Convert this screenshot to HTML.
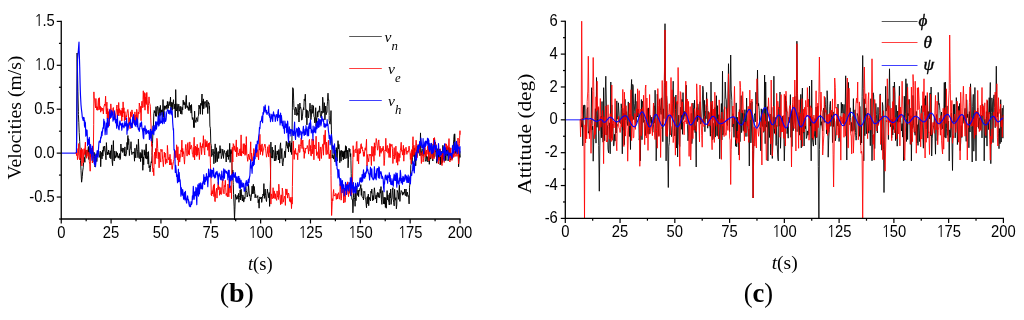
<!DOCTYPE html>
<html><head><meta charset="utf-8"><style>
html,body{margin:0;padding:0;background:#fff;}
svg{display:block;}
.tk{font-family:"Liberation Sans",Arial,sans-serif;font-size:14.8px;fill:#000;}
.al{font-family:"Liberation Serif","Times New Roman",serif;font-size:19.5px;fill:#000;}
.pl{font-family:"Liberation Serif","Times New Roman",serif;font-size:28px;fill:#000;}
.lg{font-family:"Liberation Serif","Times New Roman",serif;font-size:15.5px;font-style:italic;fill:#000;}
.lg .sub{font-size:12.8px;}
.lg2{font-family:"Liberation Serif","DejaVu Serif",serif;font-size:17px;font-style:italic;fill:#000;stroke:#000;stroke-width:0.45px;}
</style></head><body>
<svg width="1024" height="320" viewBox="0 0 1024 320">
<rect width="1024" height="320" fill="#fff"/>
<g><path d="M61.25,153.13H76.40" stroke="#00f" stroke-width="1.1"/><polyline fill="none" stroke="#000" stroke-width="0.95" stroke-opacity="1.0" stroke-linejoin="round" points="76.6,153.1 77.0,65.0 77.1,53.0 77.5,70.7 77.9,91.2 78.4,111.7 78.4,114.5 78.8,122.3 79.2,132.5 79.7,141.4 80.1,150.9 80.5,160.5 81.0,170.4 81.4,179.0 81.6,182.2 81.9,179.9 82.3,176.3 82.7,171.1 83.2,167.8 83.6,162.5 84.1,159.9 84.2,157.2 84.5,159.3 84.9,162.3 85.2,155.1 85.4,151.9 85.8,150.2 86.3,157.0 86.7,156.4 87.1,150.0 87.6,152.6 88.0,150.0 88.4,146.5 88.9,159.5 89.3,150.3 89.8,145.5 90.2,153.0 90.6,157.0 91.1,149.6 91.5,154.2 92.0,151.2 92.4,156.9 92.8,162.0 93.3,156.8 93.7,157.8 94.1,152.3 94.6,156.4 95.0,167.0 95.5,164.5 95.9,153.6 96.3,153.9 96.8,161.6 97.2,157.3 97.7,154.5 98.1,152.7 98.5,150.5 99.0,154.7 99.4,156.3 99.8,157.4 100.3,151.1 100.7,166.7 101.2,154.2 101.6,152.5 102.0,158.9 102.5,150.4 102.9,156.1 103.4,146.6 103.8,151.3 104.2,147.9 104.7,146.0 105.1,150.4 105.6,155.6 106.0,159.8 106.4,142.6 106.9,151.3 107.3,154.9 107.7,151.9 108.2,154.5 108.6,150.0 109.1,154.0 109.5,153.1 109.9,157.8 110.4,150.8 110.8,158.9 111.3,149.6 111.7,144.9 112.1,160.9 112.6,165.7 113.0,149.8 113.4,140.6 113.9,159.7 114.3,161.0 114.8,151.0 115.2,158.2 115.6,155.9 116.1,156.2 116.5,151.6 117.0,157.3 117.4,152.9 117.8,155.2 118.3,158.2 118.7,155.9 119.1,157.9 119.6,153.5 120.0,159.6 120.5,158.2 120.9,144.0 121.3,151.1 121.8,151.1 122.2,147.9 122.7,152.5 123.1,151.7 123.5,148.2 124.0,149.2 124.4,155.9 124.9,146.9 125.3,153.5 125.7,156.2 126.2,154.8 126.6,152.1 127.0,142.4 127.5,149.6 127.9,135.5 128.0,144.6 128.4,138.6 128.8,139.4 129.2,150.9 129.4,155.6 129.7,150.8 130.1,148.9 130.6,148.3 131.0,141.7 131.4,150.3 131.9,154.6 132.3,153.2 132.7,152.3 133.2,151.9 133.6,153.2 134.1,152.1 134.5,161.2 134.9,148.2 135.4,155.0 135.8,157.9 136.3,149.0 136.7,144.6 137.1,149.7 137.6,151.5 138.0,157.7 138.4,139.1 138.9,149.3 139.3,158.6 139.8,157.7 140.2,152.4 140.6,161.6 141.1,153.4 141.5,157.9 142.0,149.6 142.4,150.7 142.8,170.3 143.3,156.9 143.7,164.8 144.2,149.8 144.6,155.1 145.0,151.5 145.5,158.3 145.9,144.9 146.3,143.9 146.8,159.1 147.0,152.0 147.2,158.6 147.7,156.3 148.1,164.1 148.5,151.6 149.0,167.9 149.4,167.5 149.9,165.5 150.0,171.8 150.3,167.7 150.7,165.6 151.2,161.7 151.6,162.9 152.0,155.7 152.0,152.7 152.5,143.7 152.9,133.1 153.4,126.8 153.8,113.7 154.2,111.4 154.2,110.5 154.7,112.6 155.1,111.5 155.6,116.2 156.0,106.7 156.4,116.4 156.9,113.1 157.3,106.8 157.7,106.0 158.2,111.5 158.6,119.6 159.1,107.5 159.5,108.5 159.9,116.3 160.4,105.4 160.8,112.9 160.9,115.2 161.3,110.1 161.7,112.2 162.1,109.7 162.6,117.5 163.0,99.6 163.4,113.0 163.9,117.6 164.3,105.8 164.8,109.7 165.2,105.9 165.6,108.4 166.1,107.3 166.5,105.0 167.0,109.4 167.4,101.4 167.8,106.5 168.3,108.3 168.7,103.5 169.2,101.6 169.6,104.7 170.0,105.8 170.5,97.0 170.9,110.1 171.3,107.3 171.8,102.1 172.2,110.4 172.7,102.9 173.1,103.6 173.5,99.7 174.0,109.0 174.4,108.4 174.9,104.0 175.3,117.7 175.7,89.6 176.2,109.4 176.6,111.0 177.0,103.8 177.5,108.0 177.9,117.2 178.4,105.4 178.8,104.2 179.2,111.0 179.7,111.0 180.1,106.3 180.6,113.8 180.9,106.6 181.0,107.1 181.4,110.8 181.9,114.3 182.3,107.4 182.7,109.9 183.2,100.1 183.6,104.6 184.1,101.8 184.5,104.7 184.9,103.2 185.4,108.7 185.8,101.1 186.3,95.3 186.7,107.1 187.1,107.8 187.6,105.8 188.0,108.8 188.5,110.4 188.8,107.3 188.9,109.0 189.3,102.4 189.8,110.5 190.2,108.6 190.6,105.3 191.1,113.1 191.5,104.5 192.0,116.4 192.4,119.5 192.8,117.5 193.3,118.6 193.7,127.4 193.8,120.2 194.2,127.7 194.6,111.1 195.0,119.7 195.5,121.0 195.9,122.5 196.3,119.0 196.8,117.6 197.2,120.6 197.7,121.5 198.1,116.2 198.5,115.8 198.8,107.7 199.0,105.0 199.4,108.5 199.9,105.8 200.3,114.2 200.7,103.4 201.2,105.4 201.6,102.1 202.0,94.0 202.5,114.4 202.8,101.2 202.9,108.9 203.4,98.9 203.8,108.6 204.2,104.9 204.7,101.9 205.1,101.3 205.6,103.2 206.0,107.4 206.4,106.9 206.9,100.0 207.3,105.2 207.8,113.6 208.2,101.8 208.6,103.8 209.1,103.2 209.4,109.3 209.5,106.3 209.9,126.1 210.4,128.2 210.8,143.4 211.3,145.8 211.4,148.2 211.7,156.6 212.1,154.2 212.6,154.5 213.0,149.0 213.5,153.2 213.9,163.8 214.3,154.4 214.8,150.9 215.2,143.9 215.6,162.6 216.1,157.1 216.5,147.8 217.0,161.7 217.4,161.6 217.8,152.3 218.3,151.5 218.7,158.5 219.2,151.9 219.6,153.2 220.0,145.6 220.5,153.1 220.9,148.8 221.3,158.7 221.8,155.9 222.2,155.5 222.7,149.2 223.1,152.1 223.5,158.4 224.0,151.0 224.4,150.4 224.9,152.9 225.3,153.8 225.7,153.6 226.2,162.0 226.6,151.3 227.1,150.8 227.5,157.0 227.9,149.7 228.4,159.5 228.8,155.0 229.2,156.5 229.7,143.3 230.1,162.4 230.6,151.1 231.0,149.4 231.4,153.6 231.9,150.6 231.9,162.2 232.3,177.3 232.8,170.0 233.2,182.6 233.3,184.3 233.6,194.5 234.1,206.2 234.5,219.7 234.9,209.7 235.4,194.3 235.5,196.1 235.8,197.1 236.3,197.0 236.7,199.4 237.1,195.4 237.6,196.7 238.0,199.0 238.5,193.4 238.9,202.3 239.3,197.6 239.8,195.7 240.2,189.9 240.6,200.0 241.1,189.2 241.5,196.3 242.0,198.4 242.4,201.0 242.8,194.9 243.3,196.9 243.7,202.1 244.2,199.9 244.6,197.4 245.0,198.5 245.5,187.9 245.9,186.8 246.3,190.6 246.8,192.8 247.2,197.0 247.7,194.7 248.1,191.8 248.5,184.2 249.0,190.5 249.4,196.1 249.9,194.6 250.3,197.8 250.7,200.8 251.2,197.3 251.6,194.0 252.1,186.1 252.5,193.8 252.9,186.9 253.4,184.3 253.8,193.7 254.2,186.4 254.7,191.3 255.1,197.9 255.6,194.5 256.0,196.3 256.4,197.1 256.9,197.7 257.3,196.9 257.8,195.6 258.2,202.8 258.6,199.6 259.1,208.2 259.5,198.7 259.9,196.9 260.4,198.9 260.8,198.1 261.3,197.0 261.7,202.4 262.1,199.8 262.6,195.5 263.0,194.0 263.5,195.6 263.9,183.6 264.3,198.4 264.8,192.6 265.2,189.0 265.6,195.8 266.1,199.5 266.5,201.5 267.0,193.7 267.4,189.1 267.8,193.1 268.3,193.8 268.7,197.8 269.2,192.5 269.6,206.4 270.0,194.0 270.0,193.2 270.5,179.5 270.9,142.1 271.0,157.0 271.4,156.5 271.8,158.0 272.2,147.1 272.7,158.2 273.1,150.3 273.5,150.3 274.0,152.6 274.4,161.0 274.9,158.5 275.3,145.2 275.7,160.8 276.2,159.1 276.6,155.7 277.1,150.9 277.5,154.3 277.9,150.9 278.4,160.0 278.8,149.6 279.2,151.9 279.7,163.1 280.1,146.4 280.6,142.8 281.0,158.7 281.4,154.2 281.9,148.5 282.3,163.0 282.8,166.0 283.2,162.2 283.6,158.3 284.1,158.1 284.5,151.2 284.9,151.0 285.4,157.6 285.8,148.4 286.3,141.3 286.7,145.4 287.1,144.9 287.6,148.3 288.0,142.3 288.5,151.9 288.9,143.1 289.3,146.5 289.8,140.9 290.2,144.1 290.7,152.2 291.1,147.3 291.5,142.8 291.7,154.6 292.0,135.2 292.4,107.1 292.7,87.7 292.8,88.4 293.3,88.6 293.7,100.8 293.9,107.6 294.2,109.9 294.6,109.7 295.0,115.0 295.5,107.0 295.9,107.5 296.4,108.4 296.8,115.6 297.2,112.8 297.7,114.5 298.1,104.2 298.5,112.7 299.0,122.0 299.4,110.8 299.9,103.0 300.3,108.2 300.7,107.3 301.2,110.0 301.6,120.2 302.1,119.5 302.5,116.2 302.9,110.2 303.4,108.8 303.5,107.6 303.8,110.0 304.2,99.2 304.7,100.7 305.1,97.0 305.3,94.2 305.6,102.1 306.0,117.5 306.4,114.0 306.5,109.7 306.9,124.9 307.3,110.5 307.8,110.7 308.2,117.1 308.6,117.9 309.1,111.2 309.5,111.1 310.0,103.2 310.4,108.4 310.8,119.8 311.3,117.3 311.7,108.7 312.1,104.9 312.6,113.3 313.0,112.7 313.5,105.7 313.9,116.5 314.3,117.2 314.8,122.9 315.2,119.0 315.7,107.7 316.1,126.4 316.4,118.4 316.5,125.5 317.0,116.5 317.4,111.7 317.8,117.0 318.3,110.8 318.7,110.9 319.2,112.2 319.6,105.9 320.0,110.4 320.5,116.5 320.9,117.5 321.4,118.0 321.8,111.0 322.2,113.3 322.7,97.2 323.1,101.8 323.5,112.4 324.0,112.8 324.4,102.7 324.9,119.9 325.3,112.5 325.7,106.0 326.2,114.7 326.6,112.4 327.0,112.6 327.1,106.7 327.5,101.7 327.9,94.3 328.0,93.2 328.4,100.1 328.8,99.8 329.2,115.4 329.2,120.7 329.7,123.1 330.1,124.2 330.6,119.0 331.0,110.6 331.4,129.1 331.9,147.0 332.2,158.1 332.3,155.0 332.8,155.2 333.2,155.7 333.6,159.1 334.1,154.1 334.5,147.0 335.0,161.9 335.4,150.4 335.8,161.0 336.3,147.6 336.7,153.2 337.1,161.1 337.6,150.0 338.0,140.7 338.5,148.8 338.9,144.4 339.3,151.0 339.8,162.7 340.2,150.6 340.7,156.1 341.1,161.2 341.5,150.4 342.0,152.8 342.4,156.9 342.8,150.9 343.3,159.9 343.7,151.7 344.2,158.2 344.6,150.8 345.0,158.9 345.5,145.7 345.9,152.0 346.4,146.5 346.8,158.3 347.2,156.7 347.7,150.1 348.1,167.8 348.5,159.7 349.0,148.2 349.4,151.6 349.9,149.2 350.3,156.6 350.7,153.6 350.9,160.2 351.2,173.7 351.6,192.5 351.9,199.5 352.1,199.4 352.5,199.4 352.9,212.8 353.3,205.0 353.4,197.8 353.8,193.2 354.3,197.7 354.7,199.3 355.1,206.3 355.6,184.9 356.0,200.7 356.4,186.1 356.9,186.6 357.3,192.7 357.8,195.5 358.2,190.2 358.6,196.7 359.1,190.4 359.5,191.1 360.0,188.1 360.4,188.1 360.8,184.6 361.3,195.4 361.7,188.5 362.1,196.8 362.6,197.4 363.0,196.9 363.5,200.0 363.9,191.2 364.3,192.4 364.8,191.6 365.2,198.5 365.7,198.2 366.1,203.8 366.5,207.8 367.0,197.4 367.4,196.6 367.8,203.8 368.3,194.1 368.7,205.7 369.2,197.1 369.6,199.3 370.0,198.6 370.5,201.0 370.9,191.1 371.4,193.2 371.8,189.0 372.2,194.3 372.7,200.8 373.1,195.6 373.6,200.0 374.0,192.3 374.4,187.8 374.9,193.2 375.3,199.0 375.7,197.9 376.2,195.2 376.6,203.0 377.1,193.7 377.5,192.4 377.9,197.1 378.4,197.1 378.8,192.7 379.3,197.8 379.7,197.4 380.1,189.2 380.6,193.2 381.0,186.6 381.4,199.8 381.9,204.4 382.3,191.0 382.8,190.7 383.2,198.9 383.6,203.8 384.1,197.2 384.5,204.1 385.0,197.3 385.4,207.4 385.8,197.8 386.3,208.2 386.7,199.9 387.1,190.6 387.6,199.9 388.0,194.8 388.5,201.1 388.9,202.2 389.3,205.0 389.8,192.9 390.2,198.0 390.7,189.0 391.1,204.4 391.5,200.0 392.0,197.8 392.4,190.7 392.9,187.6 393.3,199.3 393.7,202.4 394.2,205.9 394.6,189.3 395.0,197.3 395.5,200.2 395.9,197.6 396.4,208.8 396.8,204.8 397.2,190.3 397.7,192.3 398.1,192.9 398.6,199.3 399.0,190.3 399.4,185.2 399.9,201.4 400.3,193.8 400.7,193.9 401.2,190.5 401.6,191.0 402.1,192.4 402.5,195.2 402.9,192.1 403.4,194.4 403.8,192.6 404.3,193.0 404.7,189.0 405.1,195.4 405.6,195.5 406.0,189.0 406.4,195.1 406.9,196.6 407.3,192.1 407.8,194.7 408.2,196.2 408.6,195.7 409.1,203.9 409.4,195.1 409.5,187.2 410.0,182.3 410.4,183.8 410.8,165.3 411.2,164.2 411.3,160.4 411.7,158.0 412.1,163.7 412.6,150.2 413.0,156.7 413.5,151.0 413.9,151.0 414.1,147.9 414.3,148.3 414.8,161.5 415.2,154.2 415.7,165.8 416.1,156.5 416.5,151.1 417.0,149.3 417.4,146.4 417.9,153.1 418.3,150.3 418.7,151.9 419.2,145.9 419.6,144.9 420.0,155.8 420.5,132.9 420.9,152.2 421.4,155.1 421.8,150.6 422.2,149.2 422.7,150.7 423.1,156.1 423.6,146.4 424.0,154.4 424.4,147.9 424.9,148.5 425.3,161.3 425.7,160.6 426.2,161.2 426.6,155.7 427.1,157.4 427.5,157.2 427.9,162.0 428.4,156.3 428.8,150.5 429.3,164.3 429.7,159.4 430.1,156.6 430.6,158.8 431.0,158.5 431.4,148.1 431.9,150.9 432.3,152.8 432.8,161.0 433.2,144.0 433.6,153.4 434.1,157.3 434.5,156.8 435.0,156.3 435.4,142.3 435.8,151.9 436.3,151.9 436.7,163.2 437.2,148.6 437.6,158.6 438.0,159.9 438.5,150.5 438.9,158.4 439.3,150.2 439.8,149.0 440.2,164.9 440.7,156.8 441.1,164.2 441.5,155.9 442.0,151.0 442.4,162.5 442.9,145.3 443.3,155.8 443.7,159.4 444.2,154.4 444.6,149.6 445.0,160.6 445.5,153.7 445.9,160.5 446.4,147.3 446.8,151.8 447.2,155.6 447.7,147.6 448.1,160.9 448.6,157.6 449.0,147.3 449.4,157.7 449.9,149.4 450.3,156.3 450.7,160.2 451.2,157.1 451.6,156.1 452.0,158.2 452.1,159.1 452.5,155.7 452.9,155.3 453.4,143.9 453.8,139.7 454.3,134.2 454.4,145.8 454.7,133.8 455.1,142.0 455.6,153.5 456.0,148.6 456.4,147.9 456.5,151.2 456.9,148.7 457.3,147.9 457.8,149.8 458.2,154.7 458.6,166.8 459.1,159.2 459.5,153.4 460.0,157.4 460.0,151.3"/><polyline fill="none" stroke="#f00" stroke-width="0.95" stroke-opacity="1.0" stroke-linejoin="round" points="76.2,153.1 76.2,152.2 76.6,155.6 77.0,148.5 77.5,159.7 77.9,156.1 78.4,153.8 78.8,143.5 79.2,157.9 79.7,159.8 80.1,156.5 80.5,150.1 81.0,157.7 81.4,147.9 81.9,166.0 82.3,149.5 82.7,149.6 83.2,162.8 83.6,154.0 84.1,148.6 84.5,154.5 84.9,148.8 85.4,142.1 85.8,152.5 86.3,155.4 86.7,158.3 87.1,149.9 87.6,154.6 88.0,156.1 88.4,156.6 88.9,152.2 89.3,161.8 89.8,164.1 90.2,171.2 90.6,150.4 91.1,155.8 91.5,148.0 92.0,157.4 92.4,163.0 92.8,155.6 93.2,157.6 93.3,155.0 93.7,124.3 93.9,91.9 94.1,98.4 94.6,98.3 95.0,103.2 95.5,107.9 95.9,98.5 96.3,105.9 96.8,110.1 97.2,106.7 97.7,110.3 98.1,102.3 98.5,98.4 99.0,110.0 99.4,97.7 99.8,108.9 100.3,106.2 100.7,112.2 101.1,108.9 101.2,107.4 101.6,108.9 102.0,110.8 102.5,108.0 102.9,109.2 103.4,114.0 103.8,107.5 104.2,105.8 104.7,104.0 105.1,105.7 105.6,96.2 106.0,108.9 106.4,114.0 106.9,102.1 107.3,118.9 107.7,108.6 108.2,118.9 108.6,111.6 109.1,126.1 109.5,109.8 109.9,115.9 110.4,118.7 110.8,103.9 111.1,107.4 111.3,111.1 111.7,115.9 112.1,111.2 112.6,111.9 113.0,107.9 113.4,107.5 113.9,115.3 114.3,114.6 114.8,114.7 115.2,119.0 115.6,115.2 116.1,112.1 116.5,108.7 117.0,105.0 117.4,117.6 117.8,109.3 118.3,115.9 118.7,102.5 119.1,112.9 119.6,108.7 120.0,115.7 120.5,114.3 120.9,110.1 121.1,113.6 121.3,111.0 121.8,121.1 122.2,108.0 122.7,117.0 123.1,101.9 123.5,113.1 124.0,107.8 124.4,120.7 124.9,111.6 125.3,120.0 125.7,118.0 126.2,115.6 126.6,117.0 127.0,113.2 127.5,110.2 127.9,109.5 128.4,113.9 128.8,124.0 129.2,121.1 129.7,117.6 130.1,128.8 130.6,111.8 131.0,116.4 131.4,116.7 131.9,109.9 132.3,111.5 132.7,114.5 133.2,123.2 133.6,115.5 134.1,115.9 134.5,122.4 134.9,111.9 135.0,113.3 135.4,126.0 135.8,114.9 136.3,121.8 136.7,109.3 137.1,111.4 137.6,119.7 138.0,117.8 138.4,112.0 138.9,113.9 139.3,103.0 139.8,106.6 140.2,112.4 140.6,106.4 141.1,120.7 141.5,105.4 142.0,101.2 142.4,106.3 142.8,107.8 143.0,99.4 143.3,90.8 143.7,99.9 144.2,107.0 144.6,92.6 145.0,110.2 145.5,97.0 145.9,103.1 146.0,93.4 146.3,104.5 146.8,92.4 147.2,99.8 147.7,111.3 148.1,113.8 148.5,105.4 149.0,96.9 149.4,103.1 149.9,103.5 150.0,104.3 150.3,106.2 150.7,117.9 151.2,128.9 151.6,146.3 152.0,144.6 152.0,144.5 152.5,168.8 152.9,169.7 153.0,172.1 153.4,168.4 153.8,175.7 154.2,156.0 154.7,152.1 155.0,156.6 155.1,164.1 155.6,148.5 156.0,158.3 156.4,156.5 156.9,138.3 157.3,140.8 157.7,148.5 158.2,158.8 158.6,152.1 159.1,167.8 159.5,152.6 159.9,157.6 160.4,160.1 160.8,162.1 160.9,149.2 161.3,150.8 161.7,151.5 162.1,149.5 162.6,159.2 163.0,162.5 163.4,166.7 163.9,158.8 164.3,152.0 164.8,157.2 165.2,153.1 165.6,164.2 166.1,158.9 166.5,160.1 167.0,162.9 167.4,145.4 167.8,151.5 168.3,159.9 168.7,159.3 169.2,157.2 169.6,165.0 170.0,154.3 170.5,164.8 170.9,159.2 171.3,164.8 171.8,162.7 171.9,168.0 172.2,169.4 172.7,165.7 173.1,163.9 173.5,161.3 174.0,159.5 174.4,150.7 174.9,153.3 175.3,157.8 175.7,150.6 176.2,157.5 176.6,144.8 177.0,150.0 177.5,159.8 177.9,147.6 177.9,146.7 178.4,165.8 178.8,156.9 179.2,153.9 179.7,162.1 180.1,157.8 180.6,157.6 181.0,149.9 181.4,152.0 181.9,140.1 182.3,156.9 182.7,148.3 183.2,154.1 183.6,151.6 184.1,159.5 184.5,164.1 184.9,156.5 185.4,148.0 185.8,144.4 186.3,150.1 186.7,150.3 187.1,156.1 187.6,143.3 188.0,142.6 188.5,154.2 188.9,150.7 189.3,155.1 189.8,141.9 190.2,147.1 190.6,149.2 191.1,145.4 191.5,145.4 192.0,149.1 192.4,154.1 192.8,154.4 193.3,157.3 193.7,146.5 194.2,137.3 194.6,160.0 195.0,147.2 195.5,146.0 195.9,155.1 196.3,147.2 196.8,156.4 197.2,144.3 197.7,155.0 198.1,151.5 198.5,147.9 199.0,153.0 199.4,159.6 199.9,151.3 200.3,142.6 200.7,147.3 201.2,146.2 201.6,154.6 202.0,147.8 202.5,143.7 202.9,147.7 203.4,135.7 203.8,146.6 204.2,150.6 204.7,155.0 205.1,139.5 205.6,147.1 206.0,142.2 206.4,146.7 206.9,140.8 207.3,143.3 207.8,150.3 208.2,147.3 208.6,143.2 209.1,156.3 209.5,142.6 209.9,143.6 210.0,145.5 210.4,163.2 210.8,173.3 211.3,195.1 211.4,192.8 211.7,195.9 212.1,190.6 212.6,194.0 213.0,188.7 213.5,185.3 213.9,196.6 214.3,183.9 214.8,201.2 215.2,201.7 215.6,193.1 216.1,191.0 216.5,188.2 217.0,198.1 217.4,188.8 217.8,186.8 218.3,181.9 218.7,189.7 219.2,186.8 219.6,195.3 220.0,190.8 220.5,194.0 220.9,187.5 221.3,194.5 221.8,193.3 222.2,183.7 222.7,178.8 223.1,188.8 223.5,190.9 224.0,193.9 224.4,185.4 224.9,186.8 225.3,180.3 225.7,187.8 226.2,195.4 226.6,193.2 227.1,196.2 227.5,196.9 227.9,184.0 228.4,186.9 228.8,196.8 229.2,179.6 229.7,186.9 230.1,192.9 230.6,185.8 231.0,188.8 231.4,193.0 231.5,198.8 231.9,170.2 232.3,147.3 232.8,162.0 233.2,143.6 233.6,144.0 234.1,150.4 234.5,145.9 234.9,148.2 235.4,151.8 235.8,149.1 236.3,139.9 236.7,156.8 237.1,147.4 237.6,147.7 238.0,154.5 238.5,153.1 238.9,156.0 239.3,153.9 239.8,149.0 240.2,148.7 240.6,155.7 241.1,134.9 241.5,156.1 242.0,151.3 242.4,152.7 242.8,153.1 243.3,143.7 243.7,154.0 244.2,144.4 244.6,143.7 245.0,155.4 245.5,145.1 245.9,154.5 246.3,136.6 246.8,153.7 247.2,156.5 247.7,161.3 248.1,157.7 248.5,154.1 249.0,157.3 249.4,159.6 249.9,154.9 250.3,151.1 250.7,141.8 251.2,161.3 251.6,153.0 252.1,157.0 252.5,160.8 252.9,159.6 253.4,156.6 253.8,148.5 254.2,154.1 254.7,156.5 255.1,150.1 255.6,151.7 256.0,152.6 256.4,149.7 256.9,157.1 257.3,150.8 257.8,149.6 258.2,156.1 258.6,159.8 259.1,143.9 259.5,150.1 259.9,134.3 260.4,154.6 260.8,144.9 261.3,151.5 261.7,147.3 262.1,143.9 262.6,155.4 263.0,151.9 263.5,150.4 263.9,147.5 264.3,146.2 264.8,144.0 265.2,144.8 265.6,148.6 266.1,153.1 266.5,157.2 267.0,154.3 267.4,153.3 267.8,146.7 268.3,152.3 268.7,156.9 269.2,144.7 269.6,152.9 270.0,153.6 270.0,153.7 270.5,169.8 270.9,204.1 271.0,200.1 271.4,193.9 271.8,196.7 272.2,198.9 272.7,197.2 273.1,187.7 273.5,198.2 274.0,190.9 274.4,191.2 274.9,198.6 275.3,193.7 275.7,198.7 276.2,198.9 276.6,200.4 277.1,190.9 277.5,197.0 277.9,196.0 278.4,199.5 278.8,184.2 279.2,189.5 279.7,195.3 280.1,198.9 280.6,204.7 281.0,194.9 281.4,195.0 281.9,203.8 282.3,188.1 282.8,191.8 283.2,202.2 283.6,199.6 284.1,198.3 284.5,196.2 284.9,197.8 285.4,205.4 285.8,188.9 286.3,194.7 286.7,189.5 287.1,189.2 287.6,198.1 288.0,195.0 288.5,193.0 288.9,194.2 289.3,198.6 289.8,201.5 290.2,197.3 290.7,202.3 291.1,199.8 291.5,208.6 292.0,197.1 292.1,204.1 292.4,186.5 292.8,158.0 292.9,151.8 293.3,141.1 293.7,150.5 294.2,159.4 294.6,150.6 295.0,154.1 295.5,148.4 295.9,154.2 296.4,154.6 296.8,153.3 297.2,152.9 297.7,159.8 298.1,152.3 298.5,148.6 299.0,144.5 299.4,152.4 299.9,152.4 300.3,146.3 300.7,144.9 301.2,137.9 301.6,144.8 302.1,148.6 302.5,141.0 302.9,140.0 303.4,151.5 303.8,147.7 304.2,158.4 304.7,150.8 305.1,153.3 305.6,148.0 306.0,149.0 306.4,148.7 306.9,148.2 307.3,145.5 307.8,147.8 308.2,149.9 308.6,154.1 309.1,140.7 309.5,139.4 310.0,151.2 310.4,145.4 310.8,155.5 311.3,156.1 311.7,148.6 312.1,138.9 312.6,153.8 313.0,151.8 313.5,139.4 313.9,159.8 314.3,144.9 314.8,146.8 315.2,149.0 315.7,147.8 316.1,136.2 316.5,155.5 317.0,151.7 317.4,152.8 317.8,155.1 318.3,158.4 318.7,142.1 319.2,148.4 319.6,160.8 320.0,154.7 320.5,147.2 320.9,147.0 321.4,158.5 321.8,151.7 322.2,147.9 322.7,144.3 323.1,143.8 323.5,155.2 324.0,134.9 324.4,144.4 324.9,135.2 325.3,130.2 325.7,148.1 326.2,154.7 326.6,142.1 327.1,149.3 327.5,150.8 327.9,154.3 328.4,140.3 328.8,151.7 329.2,158.7 329.7,154.2 330.1,158.6 330.6,150.2 330.8,154.6 331.0,175.6 331.4,201.7 331.6,215.5 331.9,209.8 332.3,198.6 332.8,200.8 333.0,198.9 333.2,193.6 333.6,189.5 334.1,196.1 334.5,195.0 335.0,195.7 335.4,194.5 335.8,193.3 336.3,199.4 336.7,197.2 337.1,194.1 337.6,198.9 338.0,194.1 338.5,192.7 338.9,195.2 339.3,199.0 339.8,199.1 340.2,183.8 340.7,189.6 341.1,200.2 341.5,198.4 342.0,183.4 342.4,185.0 342.8,192.9 343.3,187.4 343.7,203.0 344.2,193.3 344.6,189.5 345.0,202.3 345.5,197.2 345.9,186.8 346.4,183.9 346.8,194.2 347.2,188.3 347.7,181.8 348.1,192.5 348.5,196.7 349.0,190.5 349.4,193.3 349.9,183.7 350.3,189.4 350.7,195.1 351.2,177.4 351.6,194.8 352.1,188.9 352.3,189.2 352.5,181.0 352.9,159.3 353.1,145.7 353.4,149.7 353.8,156.8 354.3,150.4 354.7,150.0 355.1,149.7 355.6,148.9 356.0,153.0 356.4,142.0 356.9,141.4 357.3,161.2 357.8,149.5 358.2,153.6 358.6,164.0 359.1,148.4 359.5,154.0 360.0,151.5 360.4,153.2 360.8,144.5 361.3,143.7 361.7,148.7 362.1,146.8 362.6,151.1 363.0,150.5 363.5,156.3 363.9,152.0 364.3,156.3 364.8,150.2 365.2,147.8 365.7,150.3 366.1,145.6 366.5,139.3 367.0,166.2 367.4,154.5 367.8,158.6 368.3,158.6 368.7,161.8 369.2,154.1 369.6,155.4 370.0,155.8 370.5,154.2 370.9,156.5 371.4,165.5 371.8,146.2 372.2,153.8 372.7,156.3 373.1,146.7 373.6,153.0 374.0,161.3 374.4,142.8 374.9,155.4 375.3,148.1 375.7,145.7 376.2,138.5 376.6,140.1 377.1,145.6 377.5,150.2 377.9,148.9 378.4,142.1 378.8,139.9 379.3,148.2 379.7,156.5 380.1,146.1 380.6,152.5 381.0,153.3 381.4,152.4 381.9,148.2 382.3,151.2 382.8,147.9 383.2,146.2 383.6,150.4 384.1,165.6 384.5,160.8 385.0,149.9 385.4,151.0 385.8,138.3 386.3,150.4 386.7,151.6 387.1,145.8 387.6,145.6 388.0,153.2 388.5,148.5 388.9,157.4 389.3,156.1 389.8,143.5 390.2,157.7 390.7,144.2 391.1,146.3 391.5,145.4 392.0,144.4 392.4,148.3 392.9,163.5 393.3,156.4 393.7,154.8 394.2,147.6 394.6,159.1 395.0,156.9 395.5,155.6 395.9,146.1 396.4,162.5 396.8,161.9 397.2,151.7 397.7,165.2 398.1,152.8 398.6,156.0 399.0,161.4 399.4,153.6 399.9,157.7 400.3,150.7 400.7,148.0 401.2,142.3 401.6,151.3 402.1,150.3 402.5,155.1 402.9,151.2 403.4,145.3 403.8,161.2 404.3,148.7 404.7,154.8 405.1,151.2 405.6,149.4 406.0,147.2 406.4,150.1 406.9,154.4 407.3,150.9 407.8,152.1 408.2,152.4 408.6,149.5 409.1,146.1 409.5,150.6 410.0,151.9 410.4,159.5 410.8,153.4 411.3,163.7 411.7,149.6 412.1,157.7 412.6,145.3 413.0,136.7 413.5,155.2 413.9,145.2 414.3,149.4 414.8,154.9 415.2,154.7 415.7,146.1 416.1,140.2 416.5,145.3 417.0,157.8 417.4,156.0 417.9,151.8 418.3,144.4 418.7,150.0 419.2,150.5 419.6,145.0 420.0,153.5 420.5,153.1 420.9,155.0 421.4,163.5 421.8,152.8 422.2,153.3 422.7,151.4 423.1,161.9 423.6,158.4 424.0,147.4 424.4,150.4 424.9,143.8 425.3,156.9 425.7,151.8 426.2,156.2 426.6,150.0 427.1,154.4 427.5,148.2 427.9,145.9 428.4,148.4 428.8,160.9 429.3,145.1 429.7,148.5 430.1,157.3 430.6,157.6 431.0,150.9 431.4,148.2 431.9,154.5 432.3,159.2 432.8,148.9 433.2,150.6 433.6,138.2 434.1,158.7 434.5,137.6 435.0,142.1 435.4,150.6 435.8,144.0 436.3,153.6 436.7,150.1 437.2,159.1 437.6,156.8 438.0,161.6 438.5,164.0 438.9,157.6 439.3,160.4 439.8,152.6 440.2,148.7 440.7,156.5 441.1,155.2 441.5,154.3 442.0,165.6 442.4,153.4 442.9,154.5 443.3,153.3 443.7,158.6 444.2,162.5 444.6,153.7 445.0,150.4 445.5,143.7 445.9,144.6 446.4,143.9 446.8,149.8 447.2,145.7 447.7,152.9 448.1,148.5 448.6,147.0 449.0,138.6 449.4,152.8 449.9,162.0 450.3,147.8 450.7,159.0 451.2,154.6 451.6,155.6 452.0,160.4 452.1,147.9 452.5,150.7 452.9,157.7 453.4,153.9 453.8,157.2 454.3,150.7 454.7,155.6 455.1,156.5 455.6,155.2 456.0,153.9 456.5,149.7 456.9,156.4 457.3,151.8 457.8,148.7 458.0,138.0 458.2,146.2 458.6,163.9 459.1,147.2 459.5,143.5 459.6,138.2 460.0,130.7 460.0,134.8"/><polyline fill="none" stroke="#00f" stroke-width="1.15" stroke-opacity="1.0" stroke-linejoin="round" points="76.4,153.1 76.6,137.3 77.0,102.5 77.2,89.9 77.5,62.0 77.5,60.0 77.9,55.0 78.4,49.7 78.8,44.4 79.0,42.0 79.2,50.7 79.5,60.0 79.7,66.8 80.1,83.2 80.3,89.9 80.5,95.4 81.0,104.8 81.4,109.0 81.9,113.1 82.3,117.3 82.4,118.0 82.7,118.4 83.2,120.5 83.6,117.4 84.1,117.7 84.5,126.1 84.8,120.9 84.9,127.3 85.4,122.5 85.8,136.2 86.3,134.6 86.7,129.8 87.1,130.6 87.6,145.6 88.0,141.2 88.4,139.2 88.9,144.3 89.3,137.3 89.8,150.8 90.0,146.8 90.2,153.3 90.6,144.5 91.1,151.4 91.5,154.1 92.0,160.3 92.4,146.2 92.8,151.1 93.3,153.1 93.7,153.9 93.9,158.2 94.1,162.6 94.6,164.6 95.0,164.1 95.5,155.1 95.5,166.7 95.9,162.3 96.3,158.4 96.8,153.7 97.2,150.5 97.7,156.3 98.1,157.2 98.5,149.0 99.0,141.9 99.4,141.1 99.8,141.6 100.3,142.6 100.7,137.0 101.2,137.9 101.6,131.9 102.0,135.8 102.5,130.4 102.5,131.9 102.9,127.8 103.4,128.3 103.8,119.2 104.2,123.4 104.7,121.9 105.1,134.7 105.6,128.6 106.0,129.2 106.4,123.1 106.9,134.4 107.3,118.8 107.7,118.4 108.2,127.2 108.6,125.6 109.1,123.5 109.5,118.5 109.7,116.5 109.9,109.4 110.4,117.5 110.8,114.3 111.3,117.3 111.7,110.5 112.1,114.7 112.6,112.0 113.0,121.1 113.4,117.4 113.9,119.7 114.3,110.9 114.8,114.8 115.2,120.5 115.6,122.9 116.1,119.2 116.5,125.5 116.7,128.1 117.0,122.8 117.4,115.3 117.8,125.3 118.3,126.3 118.7,129.0 119.1,129.8 119.6,122.6 120.0,120.8 120.5,125.0 120.9,124.4 120.9,124.1 121.3,123.7 121.8,130.3 122.2,126.2 122.7,123.1 123.1,126.7 123.5,125.7 124.0,127.8 124.4,125.4 124.9,121.2 125.3,125.7 125.7,126.0 126.2,123.4 126.4,123.1 126.6,117.9 127.0,134.3 127.5,123.8 127.9,130.2 128.4,127.0 128.8,124.1 129.2,122.8 129.7,122.5 130.1,125.2 130.6,119.5 131.0,127.2 131.4,127.8 131.9,123.0 132.3,127.5 132.7,117.1 133.2,121.0 133.6,114.5 134.1,123.0 134.5,124.6 134.9,122.6 135.0,120.3 135.4,126.1 135.8,122.0 136.3,124.4 136.7,117.7 137.1,126.8 137.6,119.4 138.0,127.2 138.4,129.7 138.9,128.8 139.3,131.4 139.8,126.9 140.2,123.1 140.6,126.4 141.1,125.2 141.5,121.8 142.0,128.3 142.4,129.5 142.8,131.9 143.3,138.0 143.4,128.2 143.7,138.7 144.2,128.6 144.6,130.4 145.0,125.8 145.5,131.0 145.9,134.1 146.3,129.2 146.8,133.4 147.2,132.3 147.6,131.0 147.7,130.9 148.1,130.6 148.5,133.3 149.0,130.7 149.4,139.5 149.9,132.5 150.3,137.9 150.4,129.2 150.7,129.2 151.2,140.8 151.6,131.3 152.0,131.5 152.5,133.8 152.9,126.1 153.4,130.0 153.8,134.6 154.2,128.1 154.6,127.1 154.7,125.7 155.1,130.7 155.6,122.1 156.0,121.6 156.4,129.2 156.9,125.6 157.3,122.1 157.7,124.3 158.2,115.8 158.6,121.0 158.7,126.0 159.1,125.3 159.5,122.5 159.9,113.3 160.4,123.2 160.8,122.2 161.3,121.0 161.7,122.6 162.1,112.4 162.6,123.6 163.0,118.2 163.4,121.2 163.9,117.8 164.3,123.3 164.8,111.9 164.9,119.8 165.2,118.5 165.6,121.4 166.1,119.3 166.5,113.9 167.0,111.1 167.4,110.7 167.8,109.6 168.3,110.5 168.7,113.5 169.2,110.6 169.6,110.7 170.0,114.2 170.5,110.9 170.9,107.6 171.3,112.4 171.8,115.0 171.9,111.3 172.2,110.9 172.7,122.5 173.1,127.6 173.3,130.0 173.5,128.6 174.0,150.0 174.4,149.4 174.9,154.9 175.3,172.5 175.7,165.3 176.2,170.4 176.6,176.5 177.0,174.7 177.5,182.8 177.9,179.3 178.4,169.2 178.8,181.7 179.2,172.6 179.7,181.1 180.1,179.7 180.6,186.5 180.9,196.2 181.0,189.8 181.4,187.7 181.9,192.8 182.3,195.1 182.7,189.6 183.2,194.4 183.6,199.2 184.1,196.0 184.5,192.5 184.9,199.9 185.1,193.6 185.4,191.3 185.8,197.3 186.3,201.8 186.7,203.2 187.1,198.9 187.6,195.8 188.0,199.6 188.5,199.6 188.9,204.2 189.2,201.9 189.3,206.1 189.8,204.7 190.2,206.8 190.6,206.4 191.1,201.7 191.5,204.5 192.0,203.0 192.4,195.8 192.8,199.4 193.3,186.3 193.7,193.2 194.2,199.2 194.6,192.1 195.0,191.8 195.5,195.7 195.9,187.3 196.3,195.3 196.8,204.6 197.2,188.2 197.7,192.9 197.8,184.9 198.1,194.3 198.5,196.2 199.0,183.6 199.4,194.0 199.9,188.5 200.3,182.9 200.7,187.6 201.2,188.8 201.6,186.9 202.0,183.4 202.5,188.9 202.9,181.8 203.4,182.7 203.8,174.7 204.2,183.8 204.7,184.4 205.1,177.0 205.6,181.4 206.0,177.4 206.2,178.5 206.4,173.6 206.9,180.0 207.3,176.8 207.8,186.6 208.2,178.9 208.6,169.1 209.1,176.9 209.5,175.6 209.9,176.6 210.4,169.2 210.8,171.9 211.3,177.6 211.7,170.0 212.1,172.9 212.6,170.5 213.0,176.6 213.5,168.1 213.9,173.8 214.3,176.0 214.8,178.0 215.2,176.6 215.6,172.8 215.6,177.1 216.1,172.0 216.5,174.1 217.0,171.4 217.4,173.7 217.8,177.3 218.3,184.2 218.7,175.1 219.2,173.1 219.6,176.0 220.0,174.5 220.5,179.1 220.9,178.5 221.3,180.0 221.8,171.1 222.2,176.2 222.7,177.5 223.1,180.4 223.5,175.4 223.7,168.8 224.0,173.4 224.4,178.1 224.9,169.8 225.3,171.0 225.7,171.3 226.2,172.9 226.6,171.3 227.1,173.6 227.5,173.1 227.9,179.7 228.4,170.2 228.8,177.2 229.2,170.3 229.7,187.6 230.1,177.2 230.6,175.7 231.0,180.8 231.4,177.5 231.9,174.4 232.3,175.7 232.5,179.9 232.8,178.1 233.2,173.1 233.6,172.4 234.1,176.7 234.5,177.3 234.9,176.4 235.4,172.7 235.8,180.7 236.3,181.8 236.7,176.9 237.1,182.8 237.6,181.0 238.0,178.7 238.1,176.6 238.5,183.0 238.9,176.3 239.3,187.8 239.8,178.6 240.2,188.7 240.6,187.6 241.1,180.2 241.5,184.3 242.0,187.1 242.4,186.8 242.8,182.8 243.3,186.0 243.7,187.0 243.7,183.6 244.2,191.3 244.6,191.0 245.0,190.4 245.5,183.0 245.9,183.3 246.3,180.6 246.8,186.2 247.2,185.8 247.7,181.9 248.1,185.3 248.1,180.3 248.5,179.2 249.0,182.7 249.4,177.8 249.9,175.4 250.3,166.2 250.7,159.7 251.2,168.0 251.6,166.0 252.1,173.3 252.5,162.3 252.9,161.7 253.4,165.7 253.8,156.7 254.2,164.4 254.7,156.2 255.0,153.6 255.1,158.7 255.6,147.7 256.0,144.6 256.4,152.3 256.9,150.9 257.3,141.1 257.8,141.9 258.2,143.6 258.6,136.9 259.0,134.0 259.1,133.7 259.5,127.4 259.9,128.8 260.4,121.5 260.8,121.3 261.3,121.2 261.7,118.0 262.0,116.0 262.1,116.9 262.6,122.6 263.0,112.5 263.5,114.2 263.9,106.7 264.3,111.9 264.6,108.7 264.8,109.6 265.2,105.0 265.6,110.6 266.1,112.9 266.5,110.4 267.0,114.5 267.4,112.9 267.8,112.9 268.3,112.3 268.7,106.1 269.0,115.5 269.2,113.3 269.6,117.1 270.0,114.0 270.5,121.7 270.9,119.2 271.4,117.2 271.8,114.3 272.2,117.6 272.6,120.3 272.7,121.4 273.1,115.4 273.5,111.9 274.0,115.8 274.4,116.1 274.9,114.9 275.3,121.4 275.7,117.6 276.2,116.4 276.6,114.5 277.1,115.8 277.5,120.6 277.9,112.1 278.4,109.5 278.6,117.3 278.8,115.2 279.2,116.5 279.7,115.2 280.1,124.9 280.6,113.1 281.0,122.6 281.4,115.5 281.9,121.4 282.3,125.8 282.8,124.7 283.2,121.1 283.4,128.2 283.6,126.1 284.1,127.2 284.5,133.3 284.9,121.0 285.4,125.0 285.8,127.5 286.3,124.0 286.7,132.7 287.1,128.7 287.6,121.1 287.9,123.9 288.0,135.6 288.5,142.3 288.9,134.8 289.3,126.9 289.8,133.3 290.2,132.9 290.7,129.3 290.9,135.9 291.1,131.4 291.5,129.7 292.0,129.8 292.4,130.4 292.8,135.2 293.3,131.3 293.7,135.4 294.2,128.4 294.6,122.0 295.0,134.2 295.5,139.5 295.9,133.5 296.4,130.3 296.8,128.4 297.2,128.8 297.7,136.2 298.1,135.6 298.5,127.4 299.0,137.3 299.4,128.3 299.9,134.8 299.9,130.6 300.3,131.3 300.7,131.9 301.2,131.7 301.6,138.9 302.1,132.9 302.5,133.2 302.9,131.3 303.4,126.3 303.7,131.7 303.8,133.9 304.2,135.5 304.7,133.4 305.1,129.3 305.6,134.4 306.0,125.7 306.4,128.6 306.9,130.3 307.3,135.8 307.8,129.6 308.2,126.9 308.6,135.7 309.1,124.6 309.5,123.2 310.0,128.4 310.1,128.5 310.4,119.7 310.8,124.2 311.3,133.0 311.7,129.7 312.1,131.3 312.6,131.5 313.0,140.2 313.1,126.1 313.5,132.7 313.9,130.4 314.3,132.1 314.8,126.8 315.2,130.7 315.7,132.9 316.1,126.8 316.5,123.0 317.0,128.8 317.4,121.3 317.8,125.1 318.3,127.5 318.7,118.6 319.2,126.8 319.6,119.7 320.0,124.2 320.5,119.9 320.9,126.0 321.4,123.2 321.8,116.4 322.2,118.6 322.7,119.3 323.1,121.5 323.5,119.2 324.0,126.8 324.4,127.1 324.9,123.6 325.3,126.9 325.7,127.1 326.2,124.4 326.6,125.1 327.0,125.6 327.1,119.5 327.5,125.1 327.9,124.1 328.4,130.8 328.8,133.4 329.2,138.4 329.7,135.6 330.1,144.8 330.6,141.1 331.0,136.6 331.4,134.4 331.9,139.3 332.3,148.7 332.8,145.8 333.2,153.2 333.4,146.0 333.6,149.9 334.1,148.4 334.5,143.9 335.0,153.1 335.4,150.8 335.8,160.9 336.3,165.5 336.4,157.9 336.7,158.0 337.1,169.0 337.6,169.0 338.0,178.0 338.5,173.3 338.9,169.5 339.3,176.4 339.8,180.4 340.2,185.6 340.6,180.7 340.7,178.5 341.1,180.6 341.5,184.3 342.0,192.6 342.4,180.5 342.8,188.4 343.3,188.3 343.7,184.7 344.2,195.8 344.6,188.7 345.0,190.4 345.4,187.4 345.5,182.3 345.9,185.4 346.4,194.4 346.8,188.8 347.2,185.3 347.7,184.9 348.1,188.9 348.5,191.0 349.0,182.5 349.4,184.1 349.9,184.2 350.3,191.8 350.3,177.7 350.7,195.7 351.2,186.8 351.6,177.6 352.1,187.8 352.5,185.8 352.9,192.2 353.4,182.6 353.8,193.3 354.3,187.0 354.7,187.3 355.1,192.3 355.6,183.2 355.9,193.1 356.0,190.1 356.4,187.4 356.9,188.8 357.3,184.6 357.8,182.5 358.2,186.3 358.6,186.3 359.1,185.4 359.5,183.6 360.0,178.0 360.4,181.6 360.8,177.8 361.3,178.1 361.7,182.2 362.1,174.6 362.6,181.1 363.0,176.2 363.5,169.8 363.9,177.9 364.3,173.0 364.8,178.2 365.2,173.8 365.5,176.4 365.7,172.1 366.1,173.5 366.5,171.3 367.0,165.8 367.4,170.7 367.8,169.4 368.3,172.8 368.7,173.3 369.2,175.1 369.6,179.9 370.0,173.8 370.5,167.2 370.9,172.4 371.4,176.6 371.8,168.8 372.2,177.9 372.7,178.1 373.1,179.7 373.6,179.8 374.0,177.2 374.4,166.7 374.9,175.1 375.1,178.3 375.3,177.2 375.7,173.8 376.2,179.6 376.6,171.2 377.1,168.5 377.5,169.8 377.9,168.5 378.1,175.5 378.4,177.8 378.8,166.8 379.3,167.5 379.7,178.3 380.1,171.9 380.6,173.4 381.0,171.7 381.4,173.8 381.9,178.4 382.3,176.3 382.8,177.6 383.2,179.6 383.6,187.7 384.1,191.7 384.2,181.8 384.5,184.2 385.0,177.0 385.4,175.0 385.8,176.8 386.3,179.8 386.7,178.7 387.1,175.1 387.6,183.2 388.0,176.6 388.5,175.8 388.9,177.5 389.3,172.7 389.8,181.5 390.2,175.3 390.7,184.1 391.1,183.9 391.5,184.6 392.0,178.7 392.4,184.6 392.9,181.2 393.3,186.2 393.7,177.8 394.2,174.2 394.6,180.1 395.0,175.6 395.5,180.4 395.9,172.9 396.4,180.9 396.8,187.2 397.2,173.4 397.7,180.1 398.1,183.3 398.6,181.0 399.0,184.7 399.4,178.2 399.9,180.9 400.3,170.4 400.7,173.9 401.2,182.9 401.6,181.6 402.1,178.4 402.5,184.2 402.9,176.3 403.4,177.0 403.8,181.5 404.3,181.0 404.7,177.9 405.1,174.9 405.6,175.1 406.0,180.0 406.4,176.1 406.9,182.4 407.3,177.1 407.8,182.1 408.2,175.1 408.6,182.4 409.1,181.3 409.5,178.3 410.0,176.0 410.4,183.8 410.6,180.3 410.8,174.4 411.3,173.2 411.7,175.5 412.1,170.8 412.6,170.7 413.0,161.0 413.5,163.3 413.9,170.4 414.3,172.9 414.8,161.7 415.2,155.7 415.7,157.5 415.9,152.7 416.1,158.2 416.5,160.2 417.0,150.4 417.4,149.6 417.9,145.2 418.3,152.8 418.7,145.7 419.2,149.0 419.6,141.6 419.9,145.9 420.0,145.4 420.5,145.3 420.9,138.0 421.4,143.0 421.8,147.4 422.2,147.3 422.7,148.1 423.1,138.6 423.6,153.6 424.0,150.7 424.4,145.1 424.9,141.9 425.3,146.8 425.7,141.0 426.2,141.4 426.6,141.8 427.1,145.4 427.5,138.2 427.9,143.7 428.4,138.8 428.7,149.3 428.8,140.0 429.3,149.9 429.7,151.5 430.1,143.6 430.6,149.6 431.0,146.0 431.4,153.3 431.5,143.4 431.9,149.6 432.3,153.8 432.8,148.3 433.2,145.6 433.6,152.2 434.1,146.1 434.5,140.2 435.0,145.6 435.4,149.2 435.8,150.1 436.3,145.6 436.7,154.2 437.2,161.1 437.6,151.3 438.0,154.4 438.5,143.6 438.9,150.3 439.3,156.1 439.8,156.5 440.2,150.6 440.7,155.0 441.1,155.0 441.5,152.6 442.0,151.8 442.4,152.7 442.9,152.5 443.3,147.9 443.7,146.9 444.2,160.6 444.6,143.8 445.0,153.2 445.5,147.8 445.9,155.4 446.4,151.9 446.8,152.2 447.2,153.7 447.7,150.4 448.1,152.2 448.6,159.1 449.0,156.2 449.4,153.1 449.9,153.0 450.3,155.4 450.7,154.7 451.2,153.3 451.6,156.9 452.1,157.9 452.5,145.6 452.9,152.6 453.4,150.0 453.8,153.1 454.3,143.9 454.7,142.1 455.1,149.9 455.6,146.9 456.0,151.4 456.5,141.3 456.9,145.3 457.3,153.5 457.8,145.0 458.2,148.1 458.6,147.2 459.1,148.9 459.5,153.9 460.0,151.3 460.0,146.3"/></g>
<g><path d="M565.30,119.83H581.8" stroke="#00f" stroke-width="0.9"/><polyline fill="none" stroke="#000" stroke-width="0.85" stroke-opacity="1.0" stroke-linejoin="round" points="580.1,119.8 580.6,119.8 581.2,119.8 581.7,127.1 582.3,118.0 582.8,145.9 583.4,105.3 583.9,118.5 584.5,104.9 585.0,105.7 585.6,137.6 586.1,134.6 586.7,124.8 587.2,109.2 587.8,107.5 588.3,133.1 588.8,131.4 589.4,134.6 589.9,131.1 590.5,125.4 591.0,123.6 591.6,87.7 592.1,129.8 592.7,126.2 593.2,161.2 593.8,137.1 594.3,127.5 594.9,121.2 595.4,108.7 596.0,143.1 596.5,77.5 597.1,127.3 597.6,118.7 598.2,107.6 598.7,145.6 599.3,191.2 599.8,148.0 600.3,121.8 600.9,116.3 601.4,137.8 602.0,101.5 602.5,134.2 603.1,142.2 603.6,87.7 604.2,123.7 604.7,140.8 605.3,91.0 605.8,76.2 606.4,104.0 606.9,135.1 607.5,125.6 608.0,149.2 608.6,152.8 609.1,137.5 609.7,122.8 610.2,153.8 610.8,82.0 611.3,138.4 611.8,104.9 612.4,131.4 612.9,124.0 613.5,145.8 614.0,145.8 614.6,134.3 615.1,141.1 615.7,121.5 616.2,133.0 616.8,100.9 617.3,119.0 617.9,118.8 618.4,102.8 619.0,113.0 619.5,122.1 620.1,123.0 620.6,123.5 621.2,103.8 621.7,108.6 622.3,153.8 622.8,108.3 623.3,130.4 623.9,113.1 624.4,144.7 625.0,99.3 625.5,120.0 626.1,118.5 626.6,111.6 627.2,121.6 627.7,125.6 628.3,101.9 628.8,119.6 629.4,136.5 629.9,114.2 630.5,149.5 631.0,94.3 631.6,79.5 632.1,120.7 632.7,84.4 633.2,86.1 633.8,119.6 634.3,111.2 634.8,103.6 635.4,93.8 635.9,123.6 636.5,119.2 637.0,101.3 637.6,117.0 638.1,109.1 638.7,111.4 639.2,140.1 639.8,135.6 640.3,160.9 640.9,125.7 641.4,99.5 642.0,139.7 642.5,101.2 643.1,105.0 643.6,122.4 644.2,121.6 644.7,120.1 645.3,135.6 645.8,126.1 646.3,122.2 646.9,111.4 647.4,108.5 648.0,133.7 648.5,107.9 649.1,134.2 649.6,124.2 650.2,115.4 650.7,121.8 651.3,123.6 651.8,117.0 652.4,130.5 652.9,132.2 653.5,124.8 654.0,105.7 654.6,123.1 655.1,90.2 655.7,117.9 656.2,160.9 656.8,128.7 657.3,94.1 657.8,121.4 658.4,128.7 658.9,135.8 659.5,99.7 660.0,105.0 660.6,110.4 661.1,114.4 661.7,97.8 662.2,108.0 662.8,141.7 663.3,108.8 663.9,118.7 664.4,82.4 665.0,23.7 665.5,81.7 666.1,160.9 666.6,95.9 667.2,104.4 667.7,148.0 668.3,187.5 668.8,146.3 669.3,142.6 669.9,116.4 670.4,125.2 671.0,127.3 671.5,136.6 672.1,132.6 672.6,103.3 673.2,81.2 673.7,113.2 674.3,122.2 674.8,135.9 675.4,109.7 675.9,95.0 676.5,148.0 677.0,102.2 677.6,157.0 678.1,127.1 678.7,115.1 679.2,143.9 679.8,146.4 680.3,118.4 680.8,107.1 681.4,129.3 681.9,99.4 682.5,134.3 683.0,92.6 683.6,119.5 684.1,117.6 684.7,111.4 685.2,116.2 685.8,91.1 686.3,85.2 686.9,112.5 687.4,124.2 688.0,140.8 688.5,133.9 689.1,121.3 689.6,123.1 690.2,122.2 690.7,121.4 691.3,113.3 691.8,143.7 692.3,138.3 692.9,103.0 693.4,107.7 694.0,130.3 694.5,100.2 695.1,132.6 695.6,125.6 696.2,167.0 696.7,107.6 697.3,121.6 697.8,103.9 698.4,109.8 698.9,119.8 699.5,118.7 700.0,101.7 700.6,124.0 701.1,123.8 701.7,120.2 702.2,108.0 702.8,86.2 703.3,89.7 703.8,122.4 704.4,100.3 704.9,131.7 705.5,111.0 706.0,118.8 706.6,92.4 707.1,110.8 707.7,128.2 708.2,111.3 708.8,115.1 709.3,125.9 709.9,125.6 710.4,136.2 711.0,82.0 711.5,118.5 712.1,104.7 712.6,139.8 713.2,138.5 713.7,123.2 714.3,123.1 714.8,107.5 715.3,137.1 715.9,111.8 716.4,95.7 717.0,135.7 717.5,105.7 718.1,136.4 718.6,114.9 719.2,114.7 719.7,158.8 720.3,132.0 720.8,117.9 721.4,103.5 721.9,139.9 722.5,71.2 723.0,134.9 723.6,132.2 724.1,109.4 724.7,109.1 725.2,82.0 725.8,98.0 726.3,99.5 726.8,123.4 727.4,125.6 727.9,97.0 728.5,63.7 729.0,93.5 729.6,131.7 730.1,99.4 730.7,55.0 731.2,89.9 731.8,100.4 732.3,127.0 732.9,113.7 733.4,121.8 734.0,137.3 734.5,118.1 735.1,120.5 735.6,146.2 736.2,102.9 736.7,146.8 737.3,117.2 737.8,138.3 738.3,134.4 738.9,155.0 739.4,109.5 740.0,141.7 740.5,124.2 741.1,95.6 741.6,132.6 742.2,121.7 742.7,110.2 743.3,130.7 743.8,113.4 744.4,132.0 744.9,109.7 745.5,120.2 746.0,136.6 746.6,98.0 747.1,122.8 747.7,125.8 748.2,136.4 748.8,128.9 749.3,166.0 749.8,118.4 750.4,103.2 750.9,142.9 751.5,127.0 752.0,101.6 752.6,150.6 753.1,198.0 753.7,143.7 754.2,115.7 754.8,113.6 755.3,121.9 755.9,92.2 756.4,104.0 757.0,103.9 757.5,70.0 758.1,106.0 758.6,103.4 759.2,110.3 759.7,123.9 760.3,127.9 760.8,150.8 761.3,108.8 761.9,123.3 762.4,126.5 763.0,109.5 763.5,132.3 764.1,131.0 764.6,75.0 765.2,143.7 765.7,82.0 766.3,124.7 766.8,127.2 767.4,106.7 767.9,160.9 768.5,122.0 769.0,121.3 769.6,137.5 770.1,114.0 770.7,154.9 771.2,121.6 771.8,107.3 772.3,158.5 772.8,146.0 773.4,125.0 773.9,76.2 774.5,133.4 775.0,117.1 775.6,119.2 776.1,145.5 776.7,125.2 777.2,144.6 777.8,157.9 778.3,160.9 778.9,107.1 779.4,126.2 780.0,92.0 780.5,148.3 781.1,130.1 781.6,118.7 782.2,126.7 782.7,116.1 783.3,121.9 783.8,134.3 784.3,160.9 784.9,139.8 785.4,95.8 786.0,111.5 786.5,101.4 787.1,133.6 787.6,127.0 788.2,138.2 788.7,117.3 789.3,122.7 789.8,116.2 790.4,94.6 790.9,137.3 791.5,111.4 792.0,146.6 792.6,105.4 793.1,130.8 793.7,124.7 794.2,121.2 794.8,96.4 795.3,124.0 795.9,131.6 796.4,95.3 796.9,41.2 797.5,93.7 798.0,131.7 798.6,123.9 799.1,112.4 799.7,135.2 800.2,112.5 800.8,94.4 801.3,147.9 801.9,101.1 802.4,88.1 803.0,133.2 803.5,113.4 804.1,146.0 804.6,117.9 805.2,128.8 805.7,118.4 806.3,138.5 806.8,137.0 807.4,130.9 807.9,135.2 808.4,133.8 809.0,127.0 809.5,86.0 810.1,126.1 810.6,115.9 811.2,160.9 811.7,80.0 812.3,136.1 812.8,142.3 813.4,146.1 813.9,138.0 814.5,136.3 815.0,118.5 815.6,144.9 816.1,107.0 816.7,137.6 817.2,112.9 817.8,106.2 818.3,166.4 818.9,218.0 819.4,149.5 819.9,130.9 820.5,113.8 821.0,125.3 821.6,121.7 822.1,126.0 822.7,131.0 823.2,110.7 823.8,108.0 824.3,122.4 824.9,97.4 825.4,104.3 826.0,110.6 826.5,133.8 827.1,90.7 827.6,100.2 828.2,157.2 828.7,140.1 829.3,129.7 829.8,106.3 830.4,101.3 830.9,126.4 831.4,117.6 832.0,110.2 832.5,142.6 833.1,111.9 833.6,126.6 834.2,118.5 834.7,122.3 835.3,140.9 835.8,137.9 836.4,120.8 836.9,119.4 837.5,125.8 838.0,104.0 838.6,127.4 839.1,141.5 839.7,127.1 840.2,124.3 840.8,123.6 841.3,102.4 841.9,113.1 842.4,104.1 842.9,111.2 843.5,124.2 844.0,104.4 844.6,125.7 845.1,117.3 845.7,75.8 846.2,119.7 846.8,160.0 847.3,115.3 847.9,91.5 848.4,82.4 849.0,104.6 849.5,121.8 850.1,107.8 850.6,117.6 851.2,131.3 851.7,122.4 852.3,125.4 852.8,131.3 853.4,98.6 853.9,130.2 854.4,129.5 855.0,109.8 855.5,132.7 856.1,140.2 856.6,135.3 857.2,113.4 857.7,115.1 858.3,116.4 858.8,128.9 859.4,136.3 859.9,106.4 860.5,145.0 861.0,124.8 861.6,143.0 862.1,96.5 862.7,55.5 863.2,88.5 863.8,160.9 864.3,98.8 864.9,135.7 865.4,116.3 865.9,107.9 866.5,133.7 867.0,122.6 867.6,113.0 868.1,123.1 868.7,133.2 869.2,118.0 869.8,119.3 870.3,145.7 870.9,98.7 871.4,117.3 872.0,160.8 872.5,134.6 873.1,92.7 873.6,94.9 874.2,116.5 874.7,148.6 875.3,124.8 875.8,103.5 876.4,114.4 876.9,126.3 877.4,133.0 878.0,107.3 878.5,124.3 879.1,115.5 879.6,112.7 880.2,93.9 880.7,117.8 881.3,116.5 881.8,150.2 882.4,102.5 882.9,106.2 883.5,149.3 884.0,192.5 884.6,152.0 885.1,119.5 885.7,86.3 886.2,111.1 886.8,107.7 887.3,107.3 887.9,98.8 888.4,139.5 888.9,103.9 889.5,68.8 890.0,101.1 890.6,126.7 891.1,119.2 891.7,137.8 892.2,119.4 892.8,135.0 893.3,86.1 893.9,129.6 894.4,82.0 895.0,94.1 895.5,140.6 896.1,105.2 896.6,111.0 897.2,146.2 897.7,111.0 898.3,122.5 898.8,115.2 899.4,86.2 899.9,122.0 900.4,114.2 901.0,124.0 901.5,131.0 902.1,123.6 902.6,137.1 903.2,115.4 903.7,160.9 904.3,96.2 904.8,120.0 905.4,113.2 905.9,78.8 906.5,141.5 907.0,83.6 907.6,139.5 908.1,113.4 908.7,115.7 909.2,99.4 909.8,121.2 910.3,144.3 910.9,115.7 911.4,160.9 911.9,124.4 912.5,128.7 913.0,95.4 913.6,125.8 914.1,128.6 914.7,133.6 915.2,135.3 915.8,130.3 916.3,111.4 916.9,142.9 917.4,124.7 918.0,145.4 918.5,124.0 919.1,118.6 919.6,141.6 920.2,130.8 920.7,119.6 921.3,108.7 921.8,105.7 922.4,123.2 922.9,137.9 923.4,148.2 924.0,108.6 924.5,98.5 925.1,115.4 925.6,95.7 926.2,128.9 926.7,127.9 927.3,95.6 927.8,138.1 928.4,111.5 928.9,115.1 929.5,119.0 930.0,92.9 930.6,136.0 931.1,87.0 931.7,156.0 932.2,138.8 932.8,130.0 933.3,127.9 933.9,124.8 934.4,116.6 934.9,132.5 935.5,154.2 936.0,119.0 936.6,114.5 937.1,140.7 937.7,134.5 938.2,92.4 938.8,104.5 939.3,103.5 939.9,110.4 940.4,119.1 941.0,129.9 941.5,112.0 942.1,124.8 942.6,128.8 943.2,121.7 943.7,122.8 944.3,82.5 944.8,137.3 945.4,82.0 945.9,138.1 946.4,128.5 947.0,105.9 947.5,135.3 948.1,129.4 948.6,121.0 949.2,160.9 949.7,129.9 950.3,137.4 950.8,125.6 951.4,113.2 951.9,137.4 952.5,170.5 953.0,133.4 953.6,104.4 954.1,122.1 954.7,104.2 955.2,137.9 955.8,123.0 956.3,97.6 956.9,108.3 957.4,144.6 957.9,131.2 958.5,106.4 959.0,111.2 959.6,103.5 960.1,150.6 960.7,142.3 961.2,125.5 961.8,137.5 962.3,121.8 962.9,121.1 963.4,115.5 964.0,123.4 964.5,111.9 965.1,108.3 965.6,118.6 966.2,141.4 966.7,99.8 967.3,117.6 967.8,114.1 968.4,118.3 968.9,147.8 969.4,111.6 970.0,132.0 970.5,83.8 971.1,99.9 971.6,126.2 972.2,162.0 972.7,106.4 973.3,94.4 973.8,151.2 974.4,133.5 974.9,87.5 975.5,132.2 976.0,160.9 976.6,118.8 977.1,117.5 977.7,108.0 978.2,117.4 978.8,128.5 979.3,117.6 979.9,121.8 980.4,129.5 980.9,116.9 981.5,115.3 982.0,137.9 982.6,104.2 983.1,107.5 983.7,108.2 984.2,160.9 984.8,119.2 985.3,123.2 985.9,137.8 986.4,111.6 987.0,146.1 987.5,100.8 988.1,114.8 988.6,129.6 989.2,97.7 989.7,113.6 990.3,82.5 990.8,163.7 991.4,112.5 991.9,97.9 992.4,103.0 993.0,142.6 993.5,98.3 994.1,94.8 994.6,107.3 995.2,127.7 995.7,106.3 996.3,66.2 996.8,101.8 997.4,116.9 997.9,112.4 998.5,133.8 999.0,148.7 999.6,128.5 1000.1,143.7 1000.7,99.7 1001.2,142.1 1001.8,113.9 1002.3,108.2 1002.9,138.2 1003.4,105.3"/><polyline fill="none" stroke="#f00" stroke-width="0.85" stroke-opacity="1.0" stroke-linejoin="round" points="580.1,119.8 580.6,136.8 581.2,114.9 581.7,21.2 582.3,106.7 582.8,121.3 583.4,125.6 583.9,128.0 584.5,218.4 585.0,124.8 585.6,142.9 586.1,117.0 586.7,138.9 587.2,101.4 587.8,91.1 588.3,56.2 588.8,93.3 589.4,138.7 589.9,120.1 590.5,119.9 591.0,153.3 591.6,124.5 592.1,124.8 592.7,90.4 593.2,57.5 593.8,91.5 594.3,138.7 594.9,126.1 595.4,134.5 596.0,96.8 596.5,111.3 597.1,81.2 597.6,110.1 598.2,106.8 598.7,106.8 599.3,130.6 599.8,121.8 600.3,98.5 600.9,127.2 601.4,117.5 602.0,121.0 602.5,110.6 603.1,126.6 603.6,163.7 604.2,116.7 604.7,119.0 605.3,134.9 605.8,105.9 606.4,142.0 606.9,140.4 607.5,141.7 608.0,104.8 608.6,126.6 609.1,136.6 609.7,139.3 610.2,113.7 610.8,138.0 611.3,141.5 611.8,85.0 612.4,140.3 612.9,125.9 613.5,120.8 614.0,128.0 614.6,121.5 615.1,98.7 615.7,129.1 616.2,141.3 616.8,150.8 617.3,124.0 617.9,126.4 618.4,116.3 619.0,128.3 619.5,128.5 620.1,132.5 620.6,129.2 621.2,118.0 621.7,126.9 622.3,119.0 622.8,89.4 623.3,112.8 623.9,146.5 624.4,92.2 625.0,114.9 625.5,136.1 626.1,105.7 626.6,120.4 627.2,130.8 627.7,161.2 628.3,137.0 628.8,119.9 629.4,103.1 629.9,126.0 630.5,113.7 631.0,89.8 631.6,140.6 632.1,116.4 632.7,125.7 633.2,138.0 633.8,137.5 634.3,120.9 634.8,113.5 635.4,129.4 635.9,119.8 636.5,108.8 637.0,115.8 637.6,88.8 638.1,113.1 638.7,112.6 639.2,90.6 639.8,166.3 640.3,118.5 640.9,109.0 641.4,135.7 642.0,126.2 642.5,107.6 643.1,110.3 643.6,95.2 644.2,120.5 644.7,144.7 645.3,88.7 645.8,85.0 646.3,138.0 646.9,98.0 647.4,120.1 648.0,150.4 648.5,127.6 649.1,129.0 649.6,94.5 650.2,133.7 650.7,124.8 651.3,125.2 651.8,126.9 652.4,135.7 652.9,117.0 653.5,103.0 654.0,110.4 654.6,135.9 655.1,139.5 655.7,118.7 656.2,132.3 656.8,131.0 657.3,148.2 657.8,88.6 658.4,105.6 658.9,136.6 659.5,105.7 660.0,98.6 660.6,157.5 661.1,129.7 661.7,127.0 662.2,80.5 662.8,122.6 663.3,124.4 663.9,121.6 664.4,75.0 665.0,30.0 665.5,86.7 666.1,135.9 666.6,81.2 667.2,136.7 667.7,130.1 668.3,120.0 668.8,112.7 669.3,103.7 669.9,114.2 670.4,135.0 671.0,77.5 671.5,116.5 672.1,89.8 672.6,120.9 673.2,142.6 673.7,137.8 674.3,96.8 674.8,129.5 675.4,155.2 675.9,130.2 676.5,120.6 677.0,101.1 677.6,104.1 678.1,67.5 678.7,95.2 679.2,132.1 679.8,166.3 680.3,91.6 680.8,92.4 681.4,106.6 681.9,115.2 682.5,101.9 683.0,123.0 683.6,122.2 684.1,134.8 684.7,120.6 685.2,122.0 685.8,81.2 686.3,123.8 686.9,99.8 687.4,99.0 688.0,123.7 688.5,101.4 689.1,156.4 689.6,119.1 690.2,106.6 690.7,160.0 691.3,139.7 691.8,103.3 692.3,124.9 692.9,138.7 693.4,126.8 694.0,129.6 694.5,108.7 695.1,113.2 695.6,125.3 696.2,131.6 696.7,83.8 697.3,98.9 697.8,114.9 698.4,110.1 698.9,123.1 699.5,141.9 700.0,85.0 700.6,109.9 701.1,119.0 701.7,135.5 702.2,147.2 702.8,118.8 703.3,126.2 703.8,126.4 704.4,126.1 704.9,116.0 705.5,115.8 706.0,104.8 706.6,105.4 707.1,98.8 707.7,107.4 708.2,126.2 708.8,121.5 709.3,112.5 709.9,125.7 710.4,111.6 711.0,101.7 711.5,133.8 712.1,149.7 712.6,101.0 713.2,120.4 713.7,109.0 714.3,142.5 714.8,92.2 715.3,108.5 715.9,122.7 716.4,126.4 717.0,118.8 717.5,123.4 718.1,125.2 718.6,139.0 719.2,99.9 719.7,121.3 720.3,119.4 720.8,119.1 721.4,159.4 721.9,112.0 722.5,126.1 723.0,125.4 723.6,119.5 724.1,136.6 724.7,106.8 725.2,132.1 725.8,135.5 726.3,134.8 726.8,118.0 727.4,108.4 727.9,130.4 728.5,73.8 729.0,103.2 729.6,138.1 730.1,140.1 730.7,184.5 731.2,149.4 731.8,131.2 732.3,113.1 732.9,106.0 733.4,123.9 734.0,105.1 734.5,86.4 735.1,124.1 735.6,139.5 736.2,138.0 736.7,143.5 737.3,131.2 737.8,132.5 738.3,142.4 738.9,111.9 739.4,160.1 740.0,81.2 740.5,87.5 741.1,103.6 741.6,112.1 742.2,113.1 742.7,91.6 743.3,111.8 743.8,119.4 744.4,140.9 744.9,121.9 745.5,132.7 746.0,132.2 746.6,132.4 747.1,121.4 747.7,126.1 748.2,106.3 748.8,142.4 749.3,123.4 749.8,90.1 750.4,120.0 750.9,101.0 751.5,102.0 752.0,99.0 752.6,147.7 753.1,198.0 753.7,152.7 754.2,126.9 754.8,146.1 755.3,128.3 755.9,141.2 756.4,148.0 757.0,78.8 757.5,121.4 758.1,131.9 758.6,136.3 759.2,129.5 759.7,127.1 760.3,127.4 760.8,121.5 761.3,127.8 761.9,165.0 762.4,112.1 763.0,114.8 763.5,131.5 764.1,130.8 764.6,113.5 765.2,123.9 765.7,121.4 766.3,160.1 766.8,160.1 767.4,115.1 767.9,115.2 768.5,97.8 769.0,108.8 769.6,117.0 770.1,120.4 770.7,144.1 771.2,80.0 771.8,130.6 772.3,156.0 772.8,117.4 773.4,116.2 773.9,106.0 774.5,128.7 775.0,127.0 775.6,134.7 776.1,126.8 776.7,93.3 777.2,126.6 777.8,101.2 778.3,107.1 778.9,108.7 779.4,107.5 780.0,137.3 780.5,114.5 781.1,94.6 781.6,132.1 782.2,121.4 782.7,132.0 783.3,115.4 783.8,138.4 784.3,94.2 784.9,126.8 785.4,146.0 786.0,91.2 786.5,104.7 787.1,112.1 787.6,111.9 788.2,126.5 788.7,124.3 789.3,108.8 789.8,105.6 790.4,105.3 790.9,117.2 791.5,167.0 792.0,123.8 792.6,102.4 793.1,97.0 793.7,126.3 794.2,128.5 794.8,80.0 795.3,108.8 795.9,151.0 796.4,96.1 796.9,43.8 797.5,92.2 798.0,117.2 798.6,148.3 799.1,99.8 799.7,115.7 800.2,113.5 800.8,140.1 801.3,121.1 801.9,98.7 802.4,146.4 803.0,115.6 803.5,109.2 804.1,132.0 804.6,107.3 805.2,126.1 805.7,100.4 806.3,112.0 806.8,117.0 807.4,87.6 807.9,107.0 808.4,99.1 809.0,140.2 809.5,131.3 810.1,106.9 810.6,105.8 811.2,121.6 811.7,107.8 812.3,138.0 812.8,117.1 813.4,139.5 813.9,115.1 814.5,128.6 815.0,131.2 815.6,119.7 816.1,90.8 816.7,137.3 817.2,130.5 817.8,103.1 818.3,127.6 818.9,91.6 819.4,57.0 819.9,94.5 820.5,114.8 821.0,92.0 821.6,109.9 822.1,112.2 822.7,155.0 823.2,146.3 823.8,135.2 824.3,96.3 824.9,107.1 825.4,112.3 826.0,110.2 826.5,129.6 827.1,115.1 827.6,135.4 828.2,114.2 828.7,132.4 829.3,124.2 829.8,113.2 830.4,126.0 830.9,110.0 831.4,113.2 832.0,114.7 832.5,98.9 833.1,154.2 833.6,187.0 834.2,143.9 834.7,78.0 835.3,87.6 835.8,108.2 836.4,107.0 836.9,135.2 837.5,108.3 838.0,109.6 838.6,138.0 839.1,135.4 839.7,122.5 840.2,115.9 840.8,160.1 841.3,119.5 841.9,116.9 842.4,123.6 842.9,116.3 843.5,113.2 844.0,137.3 844.6,113.8 845.1,124.8 845.7,136.2 846.2,117.2 846.8,96.2 847.3,78.0 847.9,147.8 848.4,147.8 849.0,88.2 849.5,124.8 850.1,121.6 850.6,133.6 851.2,136.1 851.7,153.9 852.3,117.8 852.8,116.4 853.4,153.1 853.9,137.8 854.4,132.9 855.0,121.1 855.5,116.6 856.1,102.2 856.6,98.2 857.2,103.1 857.7,82.0 858.3,139.8 858.8,129.8 859.4,101.9 859.9,115.9 860.5,120.3 861.0,153.2 861.6,151.2 862.1,155.7 862.7,218.0 863.2,160.8 863.8,101.0 864.3,67.0 864.9,97.1 865.4,103.7 865.9,93.7 866.5,119.8 867.0,124.0 867.6,138.7 868.1,100.5 868.7,92.6 869.2,130.7 869.8,115.9 870.3,119.2 870.9,130.1 871.4,107.5 872.0,58.8 872.5,92.6 873.1,144.4 873.6,134.4 874.2,160.1 874.7,99.5 875.3,112.4 875.8,119.9 876.4,125.1 876.9,131.1 877.4,121.9 878.0,125.7 878.5,124.7 879.1,121.2 879.6,118.6 880.2,95.2 880.7,144.5 881.3,116.3 881.8,130.9 882.4,139.4 882.9,159.6 883.5,110.7 884.0,136.9 884.6,144.4 885.1,171.2 885.7,146.0 886.2,120.4 886.8,122.0 887.3,78.8 887.9,104.2 888.4,135.1 888.9,105.7 889.5,122.4 890.0,118.8 890.6,124.3 891.1,108.1 891.7,140.7 892.2,116.5 892.8,101.5 893.3,125.5 893.9,87.5 894.4,132.9 895.0,117.3 895.5,128.7 896.1,131.0 896.6,139.1 897.2,129.7 897.7,121.7 898.3,134.0 898.8,106.3 899.4,95.8 899.9,145.9 900.4,107.1 901.0,117.7 901.5,116.8 902.1,81.2 902.6,101.0 903.2,115.3 903.7,117.8 904.3,156.2 904.8,160.0 905.4,132.9 905.9,117.8 906.5,119.0 907.0,104.9 907.6,87.3 908.1,104.5 908.7,99.7 909.2,124.5 909.8,113.2 910.3,108.0 910.9,144.3 911.4,87.1 911.9,132.4 912.5,141.6 913.0,74.5 913.6,85.8 914.1,132.2 914.7,130.7 915.2,81.2 915.8,118.8 916.3,153.2 916.9,130.7 917.4,87.8 918.0,109.8 918.5,87.5 919.1,100.5 919.6,109.5 920.2,126.1 920.7,146.8 921.3,113.3 921.8,139.0 922.4,121.6 922.9,91.7 923.4,111.8 924.0,78.8 924.5,119.6 925.1,158.0 925.6,105.5 926.2,142.3 926.7,117.6 927.3,92.5 927.8,108.3 928.4,133.2 928.9,131.8 929.5,154.5 930.0,133.7 930.6,94.2 931.1,121.8 931.7,134.7 932.2,130.1 932.8,122.5 933.3,122.4 933.9,126.5 934.4,133.3 934.9,110.2 935.5,95.4 936.0,130.0 936.6,129.5 937.1,101.1 937.7,144.7 938.2,130.4 938.8,126.9 939.3,117.9 939.9,125.2 940.4,135.2 941.0,115.5 941.5,140.2 942.1,149.3 942.6,154.0 943.2,108.3 943.7,149.2 944.3,113.3 944.8,109.6 945.4,107.4 945.9,123.5 946.4,88.8 947.0,119.2 947.5,130.4 948.1,141.8 948.6,100.0 949.2,90.5 949.7,35.0 950.3,83.6 950.8,128.1 951.4,113.5 951.9,100.4 952.5,143.3 953.0,135.9 953.6,137.9 954.1,117.9 954.7,114.0 955.2,120.2 955.8,132.6 956.3,129.3 956.9,101.1 957.4,102.3 957.9,118.5 958.5,142.2 959.0,110.3 959.6,115.9 960.1,160.0 960.7,92.2 961.2,107.2 961.8,136.7 962.3,136.5 962.9,98.0 963.4,86.2 964.0,106.1 964.5,122.4 965.1,136.2 965.6,115.3 966.2,94.0 966.7,114.1 967.3,160.0 967.8,124.7 968.4,127.7 968.9,116.6 969.4,102.6 970.0,86.9 970.5,115.5 971.1,126.2 971.6,117.8 972.2,118.8 972.7,126.1 973.3,118.7 973.8,119.1 974.4,138.4 974.9,110.1 975.5,125.0 976.0,135.2 976.6,111.0 977.1,127.1 977.7,90.4 978.2,111.3 978.8,117.9 979.3,131.6 979.9,125.9 980.4,105.3 980.9,130.5 981.5,106.8 982.0,87.5 982.6,116.0 983.1,105.9 983.7,113.8 984.2,119.5 984.8,102.8 985.3,133.4 985.9,135.6 986.4,117.7 987.0,99.7 987.5,112.3 988.1,122.6 988.6,114.5 989.2,112.1 989.7,139.9 990.3,160.1 990.8,136.3 991.4,144.0 991.9,128.9 992.4,139.2 993.0,133.6 993.5,112.3 994.1,117.8 994.6,119.8 995.2,92.1 995.7,126.9 996.3,125.5 996.8,83.8 997.4,137.5 997.9,146.0 998.5,97.7 999.0,113.6 999.6,109.2 1000.1,108.6 1000.7,104.2 1001.2,126.8 1001.8,120.2 1002.3,137.2 1002.9,116.7 1003.4,115.1"/><polyline fill="none" stroke="#00f" stroke-width="1.1" stroke-opacity="1.0" stroke-linejoin="round" points="581.8,119.8 582.3,119.7 582.8,119.6 583.3,119.4 583.9,119.2 584.4,119.0 584.9,118.8 585.5,118.6 586.0,118.6 586.6,118.7 587.1,118.8 587.7,118.9 588.3,119.0 588.9,118.9 589.6,118.7 590.2,118.6 590.7,118.6 591.2,118.8 591.7,119.0 592.2,119.2 592.7,119.5 593.2,119.8 593.7,120.2 594.2,120.5 594.7,120.8 595.2,121.0 595.7,121.2 596.2,121.4 596.7,121.4 597.2,121.3 597.8,121.1 598.3,120.8 598.9,120.5 599.4,120.1 599.9,119.8 600.5,119.6 601.0,119.5 601.5,119.7 602.1,120.2 602.6,120.9 603.1,121.6 603.7,122.1 604.2,122.3 604.7,122.2 605.2,122.0 605.7,121.6 606.2,121.0 606.7,120.4 607.2,119.8 607.8,119.1 608.3,118.5 608.8,117.9 609.3,117.5 609.8,117.3 610.3,117.2 610.8,117.3 611.3,117.5 611.8,117.9 612.4,118.4 612.9,118.9 613.4,119.5 613.9,120.2 614.4,120.7 615.0,121.2 615.5,121.6 616.0,121.8 616.5,121.9 617.0,121.8 617.5,121.7 618.0,121.4 618.5,121.1 619.1,120.7 619.6,120.2 620.1,119.6 620.6,119.1 621.1,118.5 621.6,118.0 622.1,117.4 622.6,116.9 623.2,116.5 623.7,116.2 624.2,115.9 624.7,115.8 625.2,115.7 625.7,115.8 626.2,116.0 626.7,116.5 627.2,117.0 627.8,117.7 628.3,118.5 628.8,119.4 629.3,120.3 629.8,121.3 630.3,122.3 630.8,123.2 631.3,124.1 631.8,124.9 632.4,125.6 632.9,126.1 633.4,126.6 633.9,126.8 634.4,126.9 634.9,126.7 635.4,126.3 635.9,125.5 636.4,124.4 636.9,123.2 637.4,121.7 637.9,120.2 638.5,118.6 639.0,117.1 639.5,115.7 640.0,114.4 640.5,113.3 641.0,112.5 641.5,112.1 642.0,111.9 642.5,112.0 643.0,112.5 643.5,113.2 644.0,114.1 644.5,115.2 645.0,116.5 645.5,117.9 646.0,119.4 646.5,120.9 647.0,122.3 647.5,123.6 648.0,124.7 648.5,125.6 649.0,126.3 649.5,126.8 650.0,126.9 650.5,126.6 651.0,125.9 651.5,124.7 652.0,123.2 652.5,121.5 653.1,119.8 653.6,118.1 654.1,116.6 654.6,115.4 655.1,114.7 655.6,114.4 656.1,114.5 656.7,115.0 657.2,115.7 657.7,116.6 658.2,117.8 658.8,119.0 659.3,120.3 659.8,121.6 660.4,122.9 660.9,124.0 661.4,125.0 661.9,125.7 662.5,126.1 663.0,126.2 663.5,126.1 664.1,125.5 664.6,124.6 665.1,123.4 665.7,122.1 666.2,120.6 666.7,119.2 667.3,117.8 667.8,116.6 668.3,115.8 668.9,115.2 669.4,115.0 669.9,115.1 670.4,115.5 670.9,116.0 671.4,116.7 671.9,117.6 672.4,118.7 672.9,119.8 673.5,121.0 674.0,122.1 674.5,123.2 675.0,124.3 675.5,125.2 676.0,125.9 676.5,126.4 677.0,126.8 677.5,126.9 678.0,126.7 678.5,126.3 679.0,125.5 679.5,124.5 680.0,123.3 680.5,121.9 681.0,120.5 681.5,118.9 682.0,117.5 682.5,116.1 683.0,114.9 683.5,113.9 684.0,113.1 684.5,112.7 685.0,112.5 685.5,112.8 686.0,113.5 686.5,114.7 687.0,116.2 687.5,117.9 688.1,119.6 688.6,121.3 689.1,122.8 689.6,124.0 690.1,124.7 690.6,125.0 691.1,124.9 691.7,124.6 692.2,124.0 692.7,123.4 693.2,122.5 693.8,121.6 694.3,120.6 694.8,119.7 695.4,118.7 695.9,117.9 696.4,117.2 696.9,116.7 697.5,116.4 698.0,116.2 698.5,116.3 699.0,116.6 699.5,116.9 700.0,117.4 700.5,118.1 701.0,118.8 701.5,119.5 702.0,120.3 702.5,121.1 703.0,121.9 703.5,122.6 704.0,123.2 704.5,123.7 705.0,124.1 705.5,124.3 706.0,124.4 706.5,124.3 707.0,124.0 707.5,123.5 708.0,122.9 708.5,122.1 709.0,121.2 709.5,120.3 710.0,119.4 710.5,118.6 711.0,117.8 711.5,117.1 712.0,116.7 712.5,116.4 713.0,116.2 713.5,116.3 714.0,116.6 714.5,117.1 715.0,117.7 715.5,118.4 716.0,119.2 716.5,120.0 717.0,120.8 717.5,121.6 718.0,122.3 718.5,122.9 719.0,123.4 719.5,123.7 720.0,123.8 720.5,123.7 721.0,123.7 721.5,123.5 722.0,123.4 722.5,123.2 723.0,122.9 723.5,122.7 724.0,122.4 724.5,122.0 725.0,121.7 725.5,121.3 726.0,120.9 726.5,120.5 727.0,120.1 727.5,119.7 728.0,119.3 728.5,119.0 729.0,118.6 729.5,118.3 730.0,118.0 730.5,117.7 731.0,117.5 731.5,117.3 732.0,117.1 732.5,117.0 733.0,116.9 733.5,116.9 734.0,117.0 734.5,117.3 735.0,117.7 735.6,118.2 736.1,118.9 736.6,119.7 737.1,120.5 737.6,121.4 738.1,122.2 738.7,123.0 739.2,123.7 739.7,124.2 740.2,124.6 740.7,124.9 741.2,125.0 741.8,124.9 742.3,124.4 742.8,123.7 743.3,122.7 743.8,121.5 744.3,120.2 744.8,118.7 745.3,117.2 745.8,115.7 746.3,114.2 746.9,112.9 747.4,111.7 747.9,110.7 748.4,110.0 748.9,109.5 749.4,109.4 749.9,109.6 750.4,110.3 750.9,111.4 751.5,112.9 752.0,114.7 752.5,116.7 753.0,118.8 753.5,120.8 754.0,122.8 754.5,124.6 755.1,126.1 755.6,127.2 756.1,127.9 756.6,128.1 757.1,127.9 757.6,127.3 758.2,126.4 758.7,125.1 759.2,123.5 759.8,121.7 760.3,119.8 760.8,117.8 761.3,115.8 761.9,113.9 762.4,112.1 762.9,110.5 763.4,109.2 764.0,108.3 764.5,107.7 765.0,107.5 765.5,107.7 766.0,108.2 766.5,109.1 767.0,110.3 767.5,111.8 768.0,113.4 768.5,115.2 769.0,117.0 769.5,118.8 770.0,120.4 770.5,121.9 771.0,123.1 771.5,124.0 772.0,124.5 772.5,124.7 773.0,124.5 773.5,124.1 774.1,123.3 774.6,122.3 775.1,121.1 775.6,119.9 776.1,118.6 776.7,117.4 777.2,116.4 777.7,115.6 778.2,115.2 778.8,115.0 779.3,115.2 779.8,115.6 780.3,116.4 780.9,117.4 781.4,118.7 781.9,120.1 782.4,121.5 783.0,122.9 783.5,124.3 784.0,125.6 784.5,126.6 785.1,127.4 785.6,127.8 786.1,128.0 786.6,127.8 787.1,127.1 787.6,126.0 788.1,124.6 788.6,122.9 789.2,120.9 789.7,118.8 790.2,116.7 790.7,114.6 791.2,112.6 791.7,110.9 792.2,109.5 792.7,108.4 793.2,107.7 793.8,107.5 794.3,107.7 794.8,108.5 795.3,109.6 795.8,111.2 796.3,113.0 796.9,115.0 797.4,117.2 797.9,119.4 798.4,121.4 798.9,123.2 799.4,124.8 800.0,125.9 800.5,126.7 801.0,126.9 801.5,126.7 802.0,126.3 802.5,125.5 803.0,124.5 803.5,123.3 804.0,121.9 804.5,120.6 805.0,119.2 805.5,118.0 806.0,117.0 806.5,116.2 807.0,115.8 807.5,115.6 808.0,115.7 808.5,116.1 809.1,116.7 809.6,117.4 810.1,118.3 810.6,119.3 811.1,120.3 811.7,121.1 812.2,121.9 812.7,122.5 813.2,122.9 813.8,123.0 814.3,122.9 814.8,122.5 815.3,122.0 815.8,121.2 816.4,120.4 816.9,119.5 817.4,118.6 817.9,117.8 818.4,117.0 819.0,116.5 819.5,116.1 820.0,116.0 820.5,116.1 821.0,116.3 821.5,116.6 822.0,117.0 822.5,117.6 823.0,118.2 823.5,118.9 824.0,119.5 824.5,120.2 825.0,120.9 825.5,121.5 826.0,122.1 826.5,122.5 827.0,122.8 827.5,123.0 828.0,123.1 828.5,123.0 829.0,122.7 829.5,122.3 830.0,121.7 830.5,120.9 831.0,120.1 831.5,119.2 832.1,118.3 832.6,117.4 833.1,116.6 833.6,115.8 834.1,115.2 834.6,114.8 835.1,114.5 835.6,114.4 836.1,114.5 836.6,114.9 837.1,115.5 837.6,116.3 838.1,117.2 838.6,118.3 839.1,119.4 839.6,120.6 840.1,121.7 840.6,122.8 841.1,123.7 841.6,124.5 842.1,125.1 842.6,125.5 843.1,125.6 843.6,125.5 844.1,125.1 844.6,124.5 845.1,123.6 845.6,122.6 846.2,121.5 846.7,120.2 847.2,118.9 847.7,117.6 848.2,116.4 848.7,115.2 849.2,114.2 849.7,113.4 850.2,112.8 850.7,112.4 851.2,112.2 851.8,112.4 852.3,112.7 852.8,113.2 853.3,113.9 853.8,114.7 854.4,115.7 854.9,116.8 855.4,117.9 855.9,119.1 856.4,120.3 857.0,121.5 857.5,122.6 858.0,123.5 858.5,124.4 859.0,125.1 859.6,125.6 860.1,125.9 860.6,126.0 861.1,125.9 861.6,125.5 862.1,124.8 862.6,124.0 863.1,122.9 863.6,121.8 864.1,120.5 864.6,119.2 865.1,118.0 865.6,116.8 866.1,115.8 866.6,114.9 867.1,114.3 867.6,113.9 868.1,113.8 868.6,113.9 869.2,114.3 869.7,115.0 870.2,115.9 870.8,117.0 871.3,118.1 871.8,119.4 872.3,120.5 872.9,121.6 873.4,122.5 873.9,123.2 874.5,123.6 875.0,123.8 875.5,123.7 876.0,123.6 876.5,123.3 877.0,123.0 877.5,122.7 878.0,122.2 878.5,121.7 879.0,121.2 879.5,120.6 880.0,120.0 880.5,119.4 881.0,118.8 881.5,118.3 882.0,117.8 882.5,117.3 883.0,117.0 883.5,116.7 884.0,116.4 884.5,116.3 885.0,116.2 885.5,116.3 886.0,116.5 886.5,116.8 887.0,117.2 887.5,117.6 888.0,118.2 888.5,118.8 889.0,119.4 889.5,120.0 890.0,120.6 890.5,121.1 891.0,121.6 891.5,122.0 892.0,122.3 892.5,122.4 893.0,122.5 893.5,122.4 894.0,122.2 894.5,121.9 895.0,121.5 895.5,120.9 896.0,120.3 896.5,119.6 897.0,118.9 897.6,118.2 898.1,117.5 898.6,116.8 899.1,116.2 899.6,115.6 900.1,115.2 900.6,114.9 901.1,114.7 901.6,114.6 902.1,114.8 902.7,115.3 903.2,116.1 903.7,117.1 904.3,118.2 904.8,119.5 905.4,120.6 905.9,121.6 906.4,122.4 907.0,122.9 907.5,123.1 908.0,123.0 908.5,122.8 909.0,122.5 909.5,122.1 910.0,121.6 910.5,121.0 911.0,120.3 911.5,119.7 912.1,119.0 912.6,118.4 913.1,117.8 913.6,117.3 914.1,116.8 914.6,116.5 915.1,116.3 915.6,116.2 916.1,116.3 916.6,116.5 917.2,116.7 917.7,117.1 918.2,117.5 918.8,118.0 919.3,118.5 919.8,119.1 920.3,119.6 920.9,120.2 921.4,120.6 921.9,121.1 922.4,121.4 923.0,121.7 923.5,121.8 924.0,121.9 924.5,121.8 925.0,121.5 925.6,120.9 926.1,120.2 926.6,119.4 927.1,118.5 927.6,117.5 928.1,116.5 928.7,115.6 929.2,114.8 929.7,114.1 930.2,113.5 930.7,113.2 931.2,113.1 931.8,113.2 932.2,113.6 932.8,114.1 933.2,114.9 933.8,115.8 934.2,116.8 934.8,117.9 935.2,119.0 935.8,120.1 936.2,121.1 936.8,122.0 937.2,122.7 937.8,123.3 938.2,123.6 938.8,123.8 939.3,123.7 939.8,123.4 940.3,123.0 940.8,122.5 941.3,121.9 941.8,121.2 942.4,120.4 942.9,119.5 943.4,118.6 943.9,117.8 944.4,117.0 944.9,116.3 945.4,115.6 946.0,115.1 946.5,114.7 947.0,114.5 947.5,114.4 948.0,114.5 948.5,114.9 949.0,115.5 949.5,116.3 950.0,117.3 950.5,118.3 951.0,119.4 951.5,120.4 952.0,121.4 952.5,122.2 953.0,122.8 953.5,123.2 954.0,123.3 954.5,123.2 955.1,122.9 955.6,122.5 956.1,121.9 956.6,121.1 957.2,120.3 957.7,119.4 958.2,118.5 958.7,117.6 959.3,116.8 959.8,116.0 960.3,115.4 960.8,115.0 961.4,114.7 961.9,114.6 962.4,114.8 963.0,115.2 963.5,115.9 964.0,116.8 964.5,118.0 965.1,119.2 965.6,120.4 966.1,121.6 966.6,122.8 967.2,123.7 967.7,124.4 968.2,124.8 968.8,125.0 969.3,124.9 969.8,124.5 970.3,123.8 970.8,122.9 971.4,121.9 971.9,120.7 972.4,119.4 972.9,118.1 973.5,116.8 974.0,115.6 974.5,114.6 975.0,113.7 975.6,113.0 976.1,112.6 976.6,112.5 977.1,112.6 977.6,112.9 978.1,113.3 978.6,114.0 979.1,114.7 979.6,115.6 980.1,116.6 980.6,117.7 981.1,118.8 981.6,119.8 982.1,120.9 982.6,121.9 983.1,122.8 983.6,123.5 984.1,124.2 984.6,124.6 985.1,124.9 985.6,125.0 986.1,124.9 986.6,124.6 987.1,124.2 987.6,123.6 988.1,122.8 988.6,122.0 989.1,121.1 989.6,120.2 990.1,119.3 990.6,118.4 991.1,117.7 991.6,117.1 992.1,116.6 992.6,116.3 993.1,116.2 993.6,116.4 994.1,116.8 994.6,117.4 995.1,118.2 995.6,119.1 996.1,119.9 996.6,120.7 997.1,121.4 997.6,121.8 998.1,121.9 998.6,121.8 999.1,121.5 999.6,121.1 1000.1,120.6 1000.6,120.0 1001.1,119.4 1001.6,118.9 1002.1,118.5 1002.6,118.2 1003.1,118.1"/></g>
<path d="M61.25,20.799999999999997V219.0H460.6" fill="none" stroke="#000" stroke-width="1.3"/><path d="M56.75,21.40H61.25" stroke="#000" stroke-width="1.2"/><path d="M56.75,65.31H61.25" stroke="#000" stroke-width="1.2"/><path d="M56.75,109.22H61.25" stroke="#000" stroke-width="1.2"/><path d="M56.75,153.13H61.25" stroke="#000" stroke-width="1.2"/><path d="M56.75,197.04H61.25" stroke="#000" stroke-width="1.2"/><path d="M58.95,43.36H61.25" stroke="#000" stroke-width="1.2"/><path d="M58.95,87.27H61.25" stroke="#000" stroke-width="1.2"/><path d="M58.95,131.18H61.25" stroke="#000" stroke-width="1.2"/><path d="M58.95,175.09H61.25" stroke="#000" stroke-width="1.2"/><path d="M58.95,219.00H61.25" stroke="#000" stroke-width="1.2"/><path d="M61.25,219.0V223.5" stroke="#000" stroke-width="1.2"/><path d="M111.09,219.0V223.5" stroke="#000" stroke-width="1.2"/><path d="M160.94,219.0V223.5" stroke="#000" stroke-width="1.2"/><path d="M210.78,219.0V223.5" stroke="#000" stroke-width="1.2"/><path d="M260.62,219.0V223.5" stroke="#000" stroke-width="1.2"/><path d="M310.47,219.0V223.5" stroke="#000" stroke-width="1.2"/><path d="M360.31,219.0V223.5" stroke="#000" stroke-width="1.2"/><path d="M410.16,219.0V223.5" stroke="#000" stroke-width="1.2"/><path d="M460.00,219.0V223.5" stroke="#000" stroke-width="1.2"/><path d="M86.17,219.0V221.3" stroke="#000" stroke-width="1.2"/><path d="M136.02,219.0V221.3" stroke="#000" stroke-width="1.2"/><path d="M185.86,219.0V221.3" stroke="#000" stroke-width="1.2"/><path d="M235.70,219.0V221.3" stroke="#000" stroke-width="1.2"/><path d="M285.55,219.0V221.3" stroke="#000" stroke-width="1.2"/><path d="M335.39,219.0V221.3" stroke="#000" stroke-width="1.2"/><path d="M385.23,219.0V221.3" stroke="#000" stroke-width="1.2"/><path d="M435.08,219.0V221.3" stroke="#000" stroke-width="1.2"/><text transform="translate(54.75,26.00) scale(1,1.08)" text-anchor="end" class="tk"><tspan style="font-family:NanumGothic,'Liberation Sans',sans-serif">1</tspan><tspan dx="-0.73">.</tspan>5</text><text transform="translate(54.75,69.91) scale(1,1.08)" text-anchor="end" class="tk"><tspan style="font-family:NanumGothic,'Liberation Sans',sans-serif">1</tspan><tspan dx="-0.73">.</tspan>0</text><text transform="translate(54.75,113.82) scale(1,1.08)" text-anchor="end" class="tk">0.5</text><text transform="translate(54.75,157.73) scale(1,1.08)" text-anchor="end" class="tk">0.0</text><text transform="translate(54.75,201.64) scale(1,1.08)" text-anchor="end" class="tk">-0.5</text><text transform="translate(61.25,237.80) scale(1,1.08)" text-anchor="middle" class="tk">0</text><text transform="translate(111.09,237.80) scale(1,1.08)" text-anchor="middle" class="tk">25</text><text transform="translate(160.94,237.80) scale(1,1.08)" text-anchor="middle" class="tk">50</text><text transform="translate(210.78,237.80) scale(1,1.08)" text-anchor="middle" class="tk">75</text><text transform="translate(260.62,237.80) scale(1,1.08)" text-anchor="middle" class="tk"><tspan style="font-family:NanumGothic,'Liberation Sans',sans-serif">1</tspan><tspan dx="-0.73">0</tspan>0</text><text transform="translate(310.47,237.80) scale(1,1.08)" text-anchor="middle" class="tk"><tspan style="font-family:NanumGothic,'Liberation Sans',sans-serif">1</tspan><tspan dx="-0.73">2</tspan>5</text><text transform="translate(360.31,237.80) scale(1,1.08)" text-anchor="middle" class="tk"><tspan style="font-family:NanumGothic,'Liberation Sans',sans-serif">1</tspan><tspan dx="-0.73">5</tspan>0</text><text transform="translate(410.16,237.80) scale(1,1.08)" text-anchor="middle" class="tk"><tspan style="font-family:NanumGothic,'Liberation Sans',sans-serif">1</tspan><tspan dx="-0.73">7</tspan>5</text><text transform="translate(460.00,237.80) scale(1,1.08)" text-anchor="middle" class="tk">200</text><path d="M565.3,20.65V218.4H1004.0" fill="none" stroke="#000" stroke-width="1.3"/><path d="M560.8,21.25H565.3" stroke="#000" stroke-width="1.2"/><path d="M560.8,54.11H565.3" stroke="#000" stroke-width="1.2"/><path d="M560.8,86.97H565.3" stroke="#000" stroke-width="1.2"/><path d="M560.8,119.83H565.3" stroke="#000" stroke-width="1.2"/><path d="M560.8,152.68H565.3" stroke="#000" stroke-width="1.2"/><path d="M560.8,185.54H565.3" stroke="#000" stroke-width="1.2"/><path d="M560.8,218.40H565.3" stroke="#000" stroke-width="1.2"/><path d="M563.0,37.68H565.3" stroke="#000" stroke-width="1.2"/><path d="M563.0,70.54H565.3" stroke="#000" stroke-width="1.2"/><path d="M563.0,103.40H565.3" stroke="#000" stroke-width="1.2"/><path d="M563.0,136.25H565.3" stroke="#000" stroke-width="1.2"/><path d="M563.0,169.11H565.3" stroke="#000" stroke-width="1.2"/><path d="M563.0,201.97H565.3" stroke="#000" stroke-width="1.2"/><path d="M565.30,218.4V222.9" stroke="#000" stroke-width="1.2"/><path d="M620.06,218.4V222.9" stroke="#000" stroke-width="1.2"/><path d="M674.82,218.4V222.9" stroke="#000" stroke-width="1.2"/><path d="M729.59,218.4V222.9" stroke="#000" stroke-width="1.2"/><path d="M784.35,218.4V222.9" stroke="#000" stroke-width="1.2"/><path d="M839.11,218.4V222.9" stroke="#000" stroke-width="1.2"/><path d="M893.88,218.4V222.9" stroke="#000" stroke-width="1.2"/><path d="M948.64,218.4V222.9" stroke="#000" stroke-width="1.2"/><path d="M1003.40,218.4V222.9" stroke="#000" stroke-width="1.2"/><path d="M592.68,218.4V220.70000000000002" stroke="#000" stroke-width="1.2"/><path d="M647.44,218.4V220.70000000000002" stroke="#000" stroke-width="1.2"/><path d="M702.21,218.4V220.70000000000002" stroke="#000" stroke-width="1.2"/><path d="M756.97,218.4V220.70000000000002" stroke="#000" stroke-width="1.2"/><path d="M811.73,218.4V220.70000000000002" stroke="#000" stroke-width="1.2"/><path d="M866.49,218.4V220.70000000000002" stroke="#000" stroke-width="1.2"/><path d="M921.26,218.4V220.70000000000002" stroke="#000" stroke-width="1.2"/><path d="M976.02,218.4V220.70000000000002" stroke="#000" stroke-width="1.2"/><text transform="translate(557.80,25.85) scale(1,1.08)" text-anchor="end" class="tk">6</text><text transform="translate(557.80,58.71) scale(1,1.08)" text-anchor="end" class="tk">4</text><text transform="translate(557.80,91.57) scale(1,1.08)" text-anchor="end" class="tk">2</text><text transform="translate(557.80,124.42) scale(1,1.08)" text-anchor="end" class="tk">0</text><text transform="translate(557.80,157.28) scale(1,1.08)" text-anchor="end" class="tk">-2</text><text transform="translate(557.80,190.14) scale(1,1.08)" text-anchor="end" class="tk">-4</text><text transform="translate(557.80,223.00) scale(1,1.08)" text-anchor="end" class="tk">-6</text><text transform="translate(565.30,237.20) scale(1,1.08)" text-anchor="middle" class="tk">0</text><text transform="translate(620.06,237.20) scale(1,1.08)" text-anchor="middle" class="tk">25</text><text transform="translate(674.82,237.20) scale(1,1.08)" text-anchor="middle" class="tk">50</text><text transform="translate(729.59,237.20) scale(1,1.08)" text-anchor="middle" class="tk">75</text><text transform="translate(784.35,237.20) scale(1,1.08)" text-anchor="middle" class="tk"><tspan style="font-family:NanumGothic,'Liberation Sans',sans-serif">1</tspan><tspan dx="-0.73">0</tspan>0</text><text transform="translate(839.11,237.20) scale(1,1.08)" text-anchor="middle" class="tk"><tspan style="font-family:NanumGothic,'Liberation Sans',sans-serif">1</tspan><tspan dx="-0.73">2</tspan>5</text><text transform="translate(893.88,237.20) scale(1,1.08)" text-anchor="middle" class="tk"><tspan style="font-family:NanumGothic,'Liberation Sans',sans-serif">1</tspan><tspan dx="-0.73">5</tspan>0</text><text transform="translate(948.64,237.20) scale(1,1.08)" text-anchor="middle" class="tk"><tspan style="font-family:NanumGothic,'Liberation Sans',sans-serif">1</tspan><tspan dx="-0.73">7</tspan>5</text><text transform="translate(1003.40,237.20) scale(1,1.08)" text-anchor="middle" class="tk">200</text><path d="M349.2,36.5H381.8" stroke="#000" stroke-width="0.65"/><path d="M349.2,68.5H381.8" stroke="#f00" stroke-width="0.75"/><path d="M349.2,100.5H381.8" stroke="#00f" stroke-width="0.75"/><text x="384.5" y="42" class="lg"><tspan>v</tspan><tspan class="sub" dy="8.2">n</tspan></text><text x="388" y="74" class="lg"><tspan>v</tspan><tspan class="sub" dy="8.2">e</tspan></text><text x="388" y="106" class="lg"><tspan>v</tspan><tspan class="sub" dy="8.2">h</tspan></text><path d="M881.7,21.5H917.5" stroke="#000" stroke-width="0.65"/><path d="M881.7,42.5H917.5" stroke="#f00" stroke-width="0.75"/><path d="M881.7,65.5H917.5" stroke="#00f" stroke-width="0.75"/><text x="918.5" y="26" class="lg2">ϕ</text><text x="923.5" y="48" class="lg2">θ</text><text x="923.5" y="70" class="lg2">ψ</text><text class="al" transform="translate(21.4,117.6) rotate(-90)" text-anchor="middle" textLength="124" lengthAdjust="spacingAndGlyphs">Velocities (m/s)</text><text class="al" transform="translate(530.9,133.7) rotate(-90)" text-anchor="middle" textLength="120" lengthAdjust="spacingAndGlyphs">Attitude (deg)</text><text class="al" x="260.3" y="270.2" text-anchor="middle" style="font-size:18.5px"><tspan font-style="italic">t</tspan>(s)</text><text class="al" x="784.7" y="269.4" text-anchor="middle" style="font-size:19.5px"><tspan font-style="italic">t</tspan>(s)</text><text class="pl" x="236.8" y="301.5" text-anchor="middle">(<tspan font-weight="bold">b</tspan>)</text><text class="pl" x="758.4" y="301.7" text-anchor="middle" style="font-size:26.5px">(<tspan font-weight="bold">c</tspan>)</text>
</svg>
</body></html>
